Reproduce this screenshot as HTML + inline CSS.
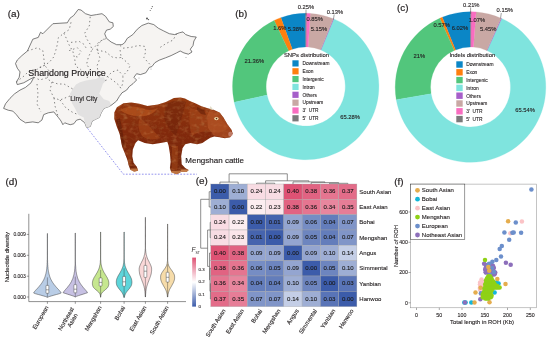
<!DOCTYPE html>
<html lang="en"><head><meta charset="utf-8"><title>Mengshan cattle population genetics figure</title>
<style>html,body{margin:0;padding:0;background:#fff;}body{width:550px;height:340px;overflow:hidden;}svg{display:block;}text{font-family:'Liberation Sans', Arial, sans-serif;}</style>
</head><body>
<svg width="550" height="340" viewBox="0 0 550 340">
<rect width="550" height="340" fill="#ffffff"/>
<g id="panel-a">
<path d="M78.2,9.5 L81.0,10.0 L85.5,13.7 L91.0,15.5 L96.5,14.6 L102.0,13.7 L105.6,16.4 L109.3,21.9 L112.9,22.8 L113.3,26.5 L110.2,29.2 L106.5,30.1 L104.7,33.8 L106.5,38.3 L111.1,42.0 L116.6,44.7 L122.0,44.7 L124.6,42.8 L127.3,38.3 L132.8,34.6 L137.3,29.2 L141.9,25.5 L148.3,23.1 L153.8,24.6 L158.3,28.2 L163.8,31.0 L169.3,33.7 L174.7,34.6 L179.3,32.8 L183.0,31.9 L185.7,34.6 L191.2,36.5 L196.3,37.0 L193.9,41.0 L193.0,45.6 L190.3,49.2 L192.0,52.0 L188.4,54.2 L183.9,52.9 L180.2,51.0 L176.6,52.9 L171.1,55.6 L165.6,57.8 L159.2,60.2 L154.9,62.7 L151.9,66.6 L149.4,67.3 L145.8,72.8 L140.3,74.6 L136.6,73.7 L133.9,77.3 L136.6,80.0 L133.0,83.7 L129.3,86.5 L126.6,90.1 L122.0,92.8 L119.3,96.5 L116.6,101.0 L112.0,104.7 L109.4,106.4 L104.0,108.2 L101.2,112.8 L99.4,117.4 L95.7,119.2 L92.1,121.0 L90.3,126.5 L86.6,127.4 L84.8,122.8 L80.2,119.2 L76.6,120.1 L73.8,123.8 L70.2,124.7 L67.4,123.8 L64.7,122.8 L62.9,124.7 L61.0,121.0 L58.3,117.4 L53.8,111.9 L48.3,112.8 L43.7,114.6 L41.9,120.1 L38.2,122.8 L32.8,121.9 L25.5,122.8 L20.0,119.3 L16.4,114.7 L12.8,111.1 L8.2,110.2 L3.6,108.4 L5.5,103.8 L10.0,98.3 L14.6,93.8 L20.0,90.1 L25.5,87.4 L31.0,82.8 L33.8,77.3 L30.1,79.2 L23.7,82.8 L17.3,84.6 L16.4,81.9 L19.2,77.3 L20.0,71.9 L17.3,68.2 L15.5,63.6 L17.3,60.0 L21.9,55.6 L27.4,51.0 L32.8,39.2 L38.3,37.4 L40.5,32.3 L42.9,33.7 L52.9,23.7 L62.0,23.1 L67.3,22.8 L70.0,18.2 L73.7,15.5 Z" fill="#f6f4f2" stroke="#484848" stroke-width="0.7" stroke-linejoin="round"/>
<path d="M76.0,84.5 L80.0,82.3 L86.0,80.5 L92.0,79.5 L96.0,79.0 L99.2,77.5 L103.8,77.3 L105.6,81.0 L102.9,83.7 L101.0,89.2 L99.2,93.8 L103.8,99.2 L109.3,101.0 L111.0,104.7 L109.4,106.4 L104.0,108.2 L101.2,112.8 L99.4,117.4 L95.7,119.2 L92.1,121.0 L90.3,126.5 L86.6,127.4 L84.8,122.8 L83.7,117.5 L78.2,114.7 L75.5,109.3 L71.9,102.9 L70.0,93.8 L72.8,89.0 Z" fill="#e2e1e1" stroke="none"/>
<path d="M71.0,22.3 L69.2,29.6 L63.8,33.2 L58.3,37.8 L57.4,44.2 L55.5,51.5 L53.7,57.0 L49.2,62.4 L44.6,65.2 L38.0,68.0" fill="none" stroke="#505050" stroke-width="0.7" stroke-dasharray="1.4 2.7"/>
<path d="M90.2,16.8 L89.3,25.9 L84.7,33.2 L86.6,38.7 L90.2,44.2 L92.0,49.7 L88.4,57.0 L86.6,64.3 L90.2,69.7 L88.0,76.0 L86.0,80.5" fill="none" stroke="#505050" stroke-width="0.7" stroke-dasharray="1.4 2.7"/>
<path d="M63.8,33.2 L66.5,38.7 L69.2,45.1 L72.9,51.5 L74.7,58.8 L75.6,66.1 L81.1,69.7" fill="none" stroke="#505050" stroke-width="0.7" stroke-dasharray="1.4 2.7"/>
<path d="M71.0,42.4 L79.3,41.5 L83.8,44.2 L86.6,48.8" fill="none" stroke="#505050" stroke-width="0.7" stroke-dasharray="1.4 2.7"/>
<path d="M69.2,50.6 L77.4,47.8 L81.1,51.5 L77.4,57.0 L73.5,56.0" fill="none" stroke="#505050" stroke-width="0.7" stroke-dasharray="1.4 2.7"/>
<path d="M27.4,51.0 L37.3,47.8 L42.8,50.6 L43.7,57.0 L44.6,65.2 L50.0,72.0 L47.0,78.0" fill="none" stroke="#505050" stroke-width="0.7" stroke-dasharray="1.4 2.7"/>
<path d="M105.7,38.7 L99.3,41.5 L94.8,46.9 L92.0,49.7" fill="none" stroke="#505050" stroke-width="0.7" stroke-dasharray="1.4 2.7"/>
<path d="M103.7,39.1 L98.2,43.7 L97.0,50.0 L100.0,58.0 L97.0,66.0 L99.2,77.3" fill="none" stroke="#505050" stroke-width="0.7" stroke-dasharray="1.4 2.7"/>
<path d="M120.1,45.5 L122.9,48.2 L131.1,47.3 L138.4,45.5 L144.8,46.4 L145.7,51.9 L143.9,57.4 L147.5,61.9 L150.3,64.7" fill="none" stroke="#505050" stroke-width="0.7" stroke-dasharray="1.4 2.7"/>
<path d="M120.1,50.1 L121.1,57.4 L126.5,61.9 L130.2,65.6 L127.4,71.1 L122.9,75.6 L122.9,82.9 L121.0,88.4" fill="none" stroke="#505050" stroke-width="0.7" stroke-dasharray="1.4 2.7"/>
<path d="M160.3,47.3 L165.8,43.7 L173.1,40.0 L176.7,33.6" fill="none" stroke="#505050" stroke-width="0.7" stroke-dasharray="1.4 2.7"/>
<path d="M97.0,50.0 L106.0,52.0 L112.0,57.0 L118.0,58.0 L121.1,57.4" fill="none" stroke="#505050" stroke-width="0.7" stroke-dasharray="1.4 2.7"/>
<path d="M107.4,76.5 L112.8,80.2 L118.3,84.7 L121.0,88.4" fill="none" stroke="#505050" stroke-width="0.7" stroke-dasharray="1.4 2.7"/>
<path d="M105.6,81.0 L107.4,76.5 L112.0,72.0 L118.0,70.0 L122.9,75.6" fill="none" stroke="#505050" stroke-width="0.7" stroke-dasharray="1.4 2.7"/>
<path d="M33.8,77.3 L40.0,80.0 L46.0,78.0 L52.0,82.0 L58.0,84.0 L64.0,84.0 L72.8,89.0" fill="none" stroke="#505050" stroke-width="0.7" stroke-dasharray="1.4 2.7"/>
<path d="M37.0,84.0 L38.0,94.0 L37.0,104.0 L41.0,112.0" fill="none" stroke="#505050" stroke-width="0.7" stroke-dasharray="1.4 2.7"/>
<path d="M52.0,82.0 L50.0,90.0 L54.0,98.0 L60.0,100.0 L70.0,96.0" fill="none" stroke="#505050" stroke-width="0.7" stroke-dasharray="1.4 2.7"/>
<path d="M54.0,98.0 L55.0,106.0 L58.3,117.4" fill="none" stroke="#505050" stroke-width="0.7" stroke-dasharray="1.4 2.7"/>
<path d="M60.0,100.0 L66.0,108.0 L72.0,112.0 L78.2,114.7" fill="none" stroke="#505050" stroke-width="0.7" stroke-dasharray="1.4 2.7"/>
<path d="M16.4,81.9 L24.0,76.0 L30.0,70.0 L36.0,70.0 L44.6,65.2" fill="none" stroke="#505050" stroke-width="0.7" stroke-dasharray="1.4 2.7"/>
<circle cx="152.3" cy="6.6" r="0.6" fill="#555"/>
<circle cx="151.3" cy="8.5" r="0.5" fill="#555"/>
<circle cx="150.2" cy="10.5" r="0.5" fill="#555"/>
<circle cx="147.0" cy="18.6" r="1.0" fill="#555"/>
<circle cx="148.5" cy="19.6" r="0.7" fill="#555"/>
<circle cx="186.0" cy="57.5" r="0.4" fill="#555"/>
<circle cx="151.0" cy="69.0" r="0.4" fill="#555"/>
<circle cx="139.0" cy="78.0" r="0.4" fill="#555"/>
<path d="M87.5,128.3 L123.4,174.2 L197,174.2" fill="none" stroke="#6666e6" stroke-width="0.7" stroke-dasharray="1.7 1.5"/>
<text x="28.3" y="76.2" font-size="8.90" text-anchor="start" fill="#231f20" stroke="#231f20" stroke-width="0.18" >Shandong Province</text>
<text x="70.3" y="100.6" font-size="6.70" text-anchor="start" fill="#231f20" stroke="#231f20" stroke-width="0.13" >Linyi City</text>
<text x="185.3" y="163.0" font-size="8.00" text-anchor="start" fill="#231f20" stroke="#231f20" stroke-width="0.16" >Mengshan cattle</text>
<text x="7.8" y="17.1" font-size="9.90" text-anchor="start" fill="#231f20" stroke="#231f20" stroke-width="0.20" >(a)</text>
<defs><linearGradient id="cowg" x1="0" y1="0" x2="0" y2="1"><stop offset="0" stop-color="#94390f"/><stop offset="0.45" stop-color="#82290c"/><stop offset="1" stop-color="#74260b"/></linearGradient></defs>
<defs><clipPath id="cowclip"><path d="M116.9,107.2 L123.5,103.2 L131.5,102.5 L139.4,103.8 L147.4,105.9 L158.0,104.6 L165.9,101.9 L173.9,97.9 L180.5,97.4 L185.0,98.5 L189.1,100.8 L195.8,103.4 L201.5,106.2 L208.5,108.6 L213.0,109.4 L219.6,112.5 L223.6,117.8 L227.5,124.4 L231.5,129.7 L232.8,133.7 L230.2,137.2 L224.9,138.2 L219.6,137.2 L214.3,136.4 L210.3,137.7 L206.4,140.3 L202.4,143.0 L197.1,144.3 L190.5,143.0 L185.2,144.3 L182.5,148.3 L181.2,156.2 L181.7,164.2 L185.2,168.1 L188.6,170.0 L186.5,172.1 L179.9,171.6 L178.6,169.5 L180.5,172.6 L176.5,174.2 L171.2,172.1 L169.9,168.1 L170.7,161.5 L169.9,153.6 L168.6,145.6 L167.3,141.7 L160.6,143.0 L152.7,144.3 L144.7,143.0 L138.1,140.3 L135.5,143.0 L132.8,149.6 L132.3,156.2 L133.6,162.8 L136.8,166.8 L138.1,170.8 L134.1,171.6 L130.2,169.5 L128.8,165.5 L127.5,160.2 L124.9,153.6 L122.2,147.0 L120.9,140.3 L119.6,133.7 L116.9,127.1 L114.3,119.1 L114.3,112.5 Z"/></clipPath><filter id="fur" x="0" y="0" width="100%" height="100%"><feTurbulence type="fractalNoise" baseFrequency="0.22 0.3" numOctaves="3" seed="4" result="n"/><feColorMatrix in="n" type="matrix" values="0 0 0 0 0.30  0 0 0 0 0.08  0 0 0 0 0.02  0 0 0 -2.6 1.35"/></filter><filter id="fur2" x="0" y="0" width="100%" height="100%"><feTurbulence type="fractalNoise" baseFrequency="0.18 0.25" numOctaves="2" seed="11" result="n"/><feColorMatrix in="n" type="matrix" values="0 0 0 0 0.80  0 0 0 0 0.40  0 0 0 0 0.16  0 0 0 2.4 -1.25"/></filter></defs>
<path d="M116.9,107.2 L123.5,103.2 L131.5,102.5 L139.4,103.8 L147.4,105.9 L158.0,104.6 L165.9,101.9 L173.9,97.9 L180.5,97.4 L185.0,98.5 L189.1,100.8 L195.8,103.4 L201.5,106.2 L208.5,108.6 L213.0,109.4 L219.6,112.5 L223.6,117.8 L227.5,124.4 L231.5,129.7 L232.8,133.7 L230.2,137.2 L224.9,138.2 L219.6,137.2 L214.3,136.4 L210.3,137.7 L206.4,140.3 L202.4,143.0 L197.1,144.3 L190.5,143.0 L185.2,144.3 L182.5,148.3 L181.2,156.2 L181.7,164.2 L185.2,168.1 L188.6,170.0 L186.5,172.1 L179.9,171.6 L178.6,169.5 L180.5,172.6 L176.5,174.2 L171.2,172.1 L169.9,168.1 L170.7,161.5 L169.9,153.6 L168.6,145.6 L167.3,141.7 L160.6,143.0 L152.7,144.3 L144.7,143.0 L138.1,140.3 L135.5,143.0 L132.8,149.6 L132.3,156.2 L133.6,162.8 L136.8,166.8 L138.1,170.8 L134.1,171.6 L130.2,169.5 L128.8,165.5 L127.5,160.2 L124.9,153.6 L122.2,147.0 L120.9,140.3 L119.6,133.7 L116.9,127.1 L114.3,119.1 L114.3,112.5 Z" fill="url(#cowg)" stroke="none"/>
<path d="M120,110 Q130,104 142,108 Q150,112 158,108 Q150,118 138,116 Q128,116 120,110Z" fill="#b4541f" opacity="0.75"/>
<path d="M140,118 Q150,126 160,138 Q150,142 142,136 Q136,126 140,118Z" fill="#a94a1a" opacity="0.6"/>
<path d="M166,104 Q176,98 186,102 Q182,118 176,136 Q168,130 164,118Z" fill="#6e230b" opacity="0.55"/>
<path d="M190,108 Q202,112 212,112 Q222,118 228,128 Q222,134 212,132 Q200,130 192,136 Q188,124 190,108Z" fill="#a6481a" opacity="0.6"/>
<path d="M116,120 Q120,132 122,146 Q126,150 124,140 Q122,128 120,118Z" fill="#5e1c08" opacity="0.6"/>
<path d="M172,146 L178,146 L177.5,170 L172,170Z" fill="#a04418" opacity="0.6"/>
<path d="M126,150 L131,150 L132,166 L129,166Z" fill="#a04418" opacity="0.5"/>
<g clip-path="url(#cowclip)"><rect x="112" y="95" width="124" height="82" filter="url(#fur)" opacity="0.6"/><rect x="112" y="95" width="124" height="82" filter="url(#fur2)" opacity="0.3"/></g>
<path d="M130.4,168.6 L137.6,168.6 L138.1,170.8 L134.1,171.7 L130.2,169.8Z" fill="#c9804a" opacity="0.85"/>
<path d="M171,171 L180,170.6 L180.5,172.6 L176.5,174.2 L171.2,172.4Z" fill="#c9804a" opacity="0.85"/>
<path d="M180.5,169.6 L187.8,169.4 L188.6,170.2 L186.5,172.1 L180.8,171.8Z" fill="#d08850" opacity="0.85"/>
<path d="M210,109.5 L220,113 L227.5,124.4 L232,131 L230,137 L222,137.6 L214,135.5 L208,128 L207,116Z" fill="#b9592a" opacity="0.55"/>
<ellipse cx="216.4" cy="118.6" rx="2.2" ry="1.6" fill="#f1dcae"/>
<circle cx="216.5" cy="118.6" r="0.8" fill="#5a2a10"/>
<path d="M209.6,108.9 L210.5,105.9 L213.6,110.2Z" fill="#e2dcc8"/>
<path d="M197,107 L204,110 L206,115 L201,114 L197,110Z" fill="#5e1c08" opacity="0.55"/>
<ellipse cx="230.4" cy="134" rx="2.2" ry="2.6" fill="#c98a78" opacity="0.8"/>
</g>
<g id="panel-b">
<path d="M305.70,13.30 A73.20,73.20 0 0 0 280.90,17.63 L292.29,49.24 A39.60,39.60 0 0 1 305.70,46.90 Z" fill="#0b86c6" stroke="#0b86c6" stroke-width="0.25"/>
<path d="M280.90,17.63 A73.20,73.20 0 0 0 274.12,20.46 L288.61,50.78 A39.60,39.60 0 0 1 292.29,49.24 Z" fill="#ff7f0e" stroke="#ff7f0e" stroke-width="0.25"/>
<path d="M274.12,20.46 A73.20,73.20 0 0 0 234.22,102.29 L267.03,95.04 A39.60,39.60 0 0 1 288.61,50.78 Z" fill="#52c67c" stroke="#52c67c" stroke-width="0.25"/>
<path d="M234.22,102.29 A73.20,73.20 0 1 0 333.75,18.89 L320.88,49.92 A39.60,39.60 0 1 1 267.03,95.04 Z" fill="#7fe4de" stroke="#7fe4de" stroke-width="0.25"/>
<path d="M333.75,18.89 A73.20,73.20 0 0 0 333.20,18.66 L320.58,49.80 A39.60,39.60 0 0 1 320.88,49.92 Z" fill="#a65fc9" stroke="#a65fc9" stroke-width="0.25"/>
<path d="M333.20,18.66 A73.20,73.20 0 0 0 310.20,13.44 L308.14,46.98 A39.60,39.60 0 0 1 320.58,49.80 Z" fill="#c9a8a4" stroke="#c9a8a4" stroke-width="0.25"/>
<path d="M310.20,13.44 A73.20,73.20 0 0 0 306.30,13.30 L306.02,46.90 A39.60,39.60 0 0 1 308.14,46.98 Z" fill="#f96dc0" stroke="#f96dc0" stroke-width="0.25"/>
<path d="M306.30,13.30 A73.20,73.20 0 0 0 305.70,13.30 L305.70,46.90 A39.60,39.60 0 0 1 306.02,46.90 Z" fill="#7a7a7a" stroke="#7a7a7a" stroke-width="0.25"/>
<text x="296.0" y="31.0" font-size="5.80" text-anchor="middle" fill="#231f20" stroke="#231f20" stroke-width="0.12" >5.38%</text>
<text x="279.8" y="29.6" font-size="5.80" text-anchor="middle" fill="#231f20" stroke="#231f20" stroke-width="0.12" >1.6%</text>
<text x="314.6" y="21.0" font-size="5.80" text-anchor="middle" fill="#231f20" stroke="#231f20" stroke-width="0.12" >0.85%</text>
<text x="319.0" y="31.4" font-size="5.80" text-anchor="middle" fill="#231f20" stroke="#231f20" stroke-width="0.12" >5.15%</text>
<text x="306.0" y="8.7" font-size="5.80" text-anchor="middle" fill="#231f20" stroke="#231f20" stroke-width="0.12" >0.25%</text>
<text x="335.0" y="13.6" font-size="5.80" text-anchor="middle" fill="#231f20" stroke="#231f20" stroke-width="0.12" >0.13%</text>
<text x="254.4" y="63.0" font-size="5.80" text-anchor="middle" fill="#231f20" stroke="#231f20" stroke-width="0.12" >21.36%</text>
<text x="350.0" y="119.2" font-size="5.80" text-anchor="middle" fill="#231f20" stroke="#231f20" stroke-width="0.12" >65.28%</text>
<path d="M306,9.5 L306,15.5" stroke="#444" stroke-width="0.5"/>
<path d="M334.2,14.5 L333.4,19.5" stroke="#444" stroke-width="0.5"/>
<text x="306.5" y="57.0" font-size="5.90" text-anchor="middle" fill="#231f20" stroke="#231f20" stroke-width="0.12" >SNPs distribution</text>
<rect x="292.4" y="60.3" width="6.2" height="6.2" fill="#0b86c6"/>
<text x="302.5" y="65.1" font-size="4.80" text-anchor="start" fill="#231f20" stroke="#231f20" stroke-width="0.10" >Downstream</text>
<rect x="292.4" y="68.2" width="6.2" height="6.2" fill="#ff7f0e"/>
<text x="302.5" y="73.0" font-size="4.80" text-anchor="start" fill="#231f20" stroke="#231f20" stroke-width="0.10" >Exon</text>
<rect x="292.4" y="76.0" width="6.2" height="6.2" fill="#52c67c"/>
<text x="302.5" y="80.8" font-size="4.80" text-anchor="start" fill="#231f20" stroke="#231f20" stroke-width="0.10" >Intergenic</text>
<rect x="292.4" y="83.8" width="6.2" height="6.2" fill="#7fe4de"/>
<text x="302.5" y="88.7" font-size="4.80" text-anchor="start" fill="#231f20" stroke="#231f20" stroke-width="0.10" >Intron</text>
<rect x="292.4" y="91.7" width="6.2" height="6.2" fill="#a65fc9"/>
<text x="302.5" y="96.5" font-size="4.80" text-anchor="start" fill="#231f20" stroke="#231f20" stroke-width="0.10" >Others</text>
<rect x="292.4" y="99.6" width="6.2" height="6.2" fill="#c9a8a4"/>
<text x="302.5" y="104.4" font-size="4.80" text-anchor="start" fill="#231f20" stroke="#231f20" stroke-width="0.10" >Upstream</text>
<rect x="292.4" y="107.4" width="6.2" height="6.2" fill="#f96dc0"/>
<text x="302.5" y="112.2" font-size="4.80" text-anchor="start" fill="#231f20" stroke="#231f20" stroke-width="0.10" >3&#8217; <tspan dx="1.3">UTR</tspan></text>
<rect x="292.4" y="115.2" width="6.2" height="6.2" fill="#7a7a7a"/>
<text x="302.5" y="120.1" font-size="4.80" text-anchor="start" fill="#231f20" stroke="#231f20" stroke-width="0.10" >5&#8217; <tspan dx="1.3">UTR</tspan></text>
<text x="235.3" y="16.6" font-size="9.90" text-anchor="start" fill="#231f20" stroke="#231f20" stroke-width="0.20" >(b)</text>
</g>
<g id="panel-c">
<path d="M470.50,11.70 A75.30,75.30 0 0 0 442.26,17.20 L455.50,49.92 A40.00,40.00 0 0 1 470.50,47.00 Z" fill="#0b86c6" stroke="#0b86c6" stroke-width="0.25"/>
<path d="M442.26,17.20 A75.30,75.30 0 0 0 439.77,18.25 L454.18,50.48 A40.00,40.00 0 0 1 455.50,49.92 Z" fill="#ff7f0e" stroke="#ff7f0e" stroke-width="0.25"/>
<path d="M439.77,18.25 A75.30,75.30 0 0 0 396.27,99.65 L431.07,93.72 A40.00,40.00 0 0 1 454.18,50.48 Z" fill="#52c67c" stroke="#52c67c" stroke-width="0.25"/>
<path d="M396.27,99.65 A75.30,75.30 0 1 0 501.61,18.43 L487.03,50.57 A40.00,40.00 0 1 1 431.07,93.72 Z" fill="#7fe4de" stroke="#7fe4de" stroke-width="0.25"/>
<path d="M501.61,18.43 A75.30,75.30 0 0 0 500.97,18.14 L486.68,50.42 A40.00,40.00 0 0 1 487.03,50.57 Z" fill="#a65fc9" stroke="#a65fc9" stroke-width="0.25"/>
<path d="M500.97,18.14 A75.30,75.30 0 0 0 476.08,11.91 L473.46,47.11 A40.00,40.00 0 0 1 486.68,50.42 Z" fill="#c9a8a4" stroke="#c9a8a4" stroke-width="0.25"/>
<path d="M476.08,11.91 A75.30,75.30 0 0 0 471.02,11.70 L470.78,47.00 A40.00,40.00 0 0 1 473.46,47.11 Z" fill="#f96dc0" stroke="#f96dc0" stroke-width="0.25"/>
<path d="M471.02,11.70 A75.30,75.30 0 0 0 470.50,11.70 L470.50,47.00 A40.00,40.00 0 0 1 470.78,47.00 Z" fill="#7a7a7a" stroke="#7a7a7a" stroke-width="0.25"/>
<text x="460.0" y="29.5" font-size="5.80" text-anchor="middle" fill="#231f20" stroke="#231f20" stroke-width="0.12" >6.02%</text>
<text x="441.7" y="27.4" font-size="5.80" text-anchor="middle" fill="#231f20" stroke="#231f20" stroke-width="0.12" >0.57%</text>
<text x="477.0" y="21.8" font-size="5.80" text-anchor="middle" fill="#231f20" stroke="#231f20" stroke-width="0.12" >1.07%</text>
<text x="488.2" y="31.3" font-size="5.80" text-anchor="middle" fill="#231f20" stroke="#231f20" stroke-width="0.12" >5.45%</text>
<text x="471.3" y="6.6" font-size="5.80" text-anchor="middle" fill="#231f20" stroke="#231f20" stroke-width="0.12" >0.21%</text>
<text x="504.8" y="11.7" font-size="5.80" text-anchor="middle" fill="#231f20" stroke="#231f20" stroke-width="0.12" >0.15%</text>
<text x="419.3" y="57.5" font-size="5.80" text-anchor="middle" fill="#231f20" stroke="#231f20" stroke-width="0.12" >21%</text>
<text x="525.0" y="112.3" font-size="5.80" text-anchor="middle" fill="#231f20" stroke="#231f20" stroke-width="0.12" >65.54%</text>
<path d="M470.6,7.5 L470.6,14" stroke="#444" stroke-width="0.5"/>
<path d="M501.3,13 L500.5,18.5" stroke="#444" stroke-width="0.5"/>
<text x="472.3" y="56.7" font-size="5.90" text-anchor="middle" fill="#231f20" stroke="#231f20" stroke-width="0.12" >Indels distribution</text>
<rect x="456.3" y="61.3" width="6.4" height="6.4" fill="#0b86c6"/>
<text x="466.2" y="66.3" font-size="4.90" text-anchor="start" fill="#231f20" stroke="#231f20" stroke-width="0.10" >Downstream</text>
<rect x="456.3" y="69.1" width="6.4" height="6.4" fill="#ff7f0e"/>
<text x="466.2" y="74.1" font-size="4.90" text-anchor="start" fill="#231f20" stroke="#231f20" stroke-width="0.10" >Exon</text>
<rect x="456.3" y="76.9" width="6.4" height="6.4" fill="#52c67c"/>
<text x="466.2" y="81.9" font-size="4.90" text-anchor="start" fill="#231f20" stroke="#231f20" stroke-width="0.10" >Intergenic</text>
<rect x="456.3" y="84.7" width="6.4" height="6.4" fill="#7fe4de"/>
<text x="466.2" y="89.7" font-size="4.90" text-anchor="start" fill="#231f20" stroke="#231f20" stroke-width="0.10" >Intron</text>
<rect x="456.3" y="92.5" width="6.4" height="6.4" fill="#a65fc9"/>
<text x="466.2" y="97.5" font-size="4.90" text-anchor="start" fill="#231f20" stroke="#231f20" stroke-width="0.10" >Others</text>
<rect x="456.3" y="100.3" width="6.4" height="6.4" fill="#c9a8a4"/>
<text x="466.2" y="105.3" font-size="4.90" text-anchor="start" fill="#231f20" stroke="#231f20" stroke-width="0.10" >Upstream</text>
<rect x="456.3" y="108.1" width="6.4" height="6.4" fill="#f96dc0"/>
<text x="466.2" y="113.1" font-size="4.90" text-anchor="start" fill="#231f20" stroke="#231f20" stroke-width="0.10" >3&#8217; <tspan dx="1.3">UTR</tspan></text>
<rect x="456.3" y="115.9" width="6.4" height="6.4" fill="#7a7a7a"/>
<text x="466.2" y="120.9" font-size="4.90" text-anchor="start" fill="#231f20" stroke="#231f20" stroke-width="0.10" >5&#8217; <tspan dx="1.3">UTR</tspan></text>
<text x="397.0" y="10.5" font-size="9.90" text-anchor="start" fill="#231f20" stroke="#231f20" stroke-width="0.20" >(c)</text>
</g>
<g id="panel-d">
<path d="M47.3,233.5 L47.3,234.2 L47.3,234.9 L47.3,235.6 L47.3,236.3 L47.3,237.0 L47.3,237.8 L47.3,238.5 L47.3,239.2 L47.3,239.9 L47.3,240.6 L47.3,241.3 L47.3,242.0 L47.3,242.7 L47.3,243.4 L47.3,244.1 L47.3,244.8 L47.3,245.6 L47.3,246.3 L47.3,247.0 L47.3,247.7 L47.3,248.4 L47.3,249.1 L47.3,249.8 L47.3,250.5 L47.3,251.2 L47.3,251.9 L47.3,252.6 L47.3,253.3 L47.3,254.1 L47.3,254.8 L47.3,255.5 L47.3,256.2 L47.3,256.9 L47.3,257.6 L47.3,258.3 L47.3,259.0 L47.3,259.7 L47.2,260.4 L47.2,261.1 L47.2,261.9 L47.2,262.6 L47.1,263.3 L47.1,264.0 L47.1,264.7 L47.0,265.4 L47.0,266.1 L46.9,266.8 L46.8,267.5 L46.8,268.2 L46.7,268.9 L46.6,269.7 L46.5,270.4 L46.4,271.1 L46.3,271.8 L46.1,272.5 L46.0,273.2 L45.8,273.9 L45.6,274.6 L45.4,275.3 L45.2,276.0 L45.0,276.7 L44.7,277.5 L44.4,278.2 L44.1,278.9 L43.8,279.6 L43.4,280.3 L43.0,281.0 L42.6,281.7 L42.2,282.4 L41.7,283.1 L41.2,283.8 L40.7,284.5 L40.1,285.2 L39.5,286.0 L38.9,286.7 L38.3,287.4 L37.7,288.1 L37.0,288.8 L36.3,289.5 L35.7,290.2 L35.1,290.9 L34.5,291.6 L34.0,292.3 L33.6,293.0 L35.7,293.8 L38.3,294.5 L40.9,295.2 L43.3,295.9 L45.7,296.6 L47.3,297.3 L47.5,297.3 L49.1,296.6 L51.5,295.9 L53.9,295.2 L56.5,294.5 L59.1,293.8 L61.2,293.0 L60.8,292.3 L60.3,291.6 L59.7,290.9 L59.1,290.2 L58.5,289.5 L57.8,288.8 L57.1,288.1 L56.5,287.4 L55.9,286.7 L55.3,286.0 L54.7,285.2 L54.1,284.5 L53.6,283.8 L53.1,283.1 L52.6,282.4 L52.2,281.7 L51.8,281.0 L51.4,280.3 L51.0,279.6 L50.7,278.9 L50.4,278.2 L50.1,277.5 L49.8,276.7 L49.6,276.0 L49.4,275.3 L49.2,274.6 L49.0,273.9 L48.8,273.2 L48.7,272.5 L48.5,271.8 L48.4,271.1 L48.3,270.4 L48.2,269.7 L48.1,268.9 L48.0,268.2 L48.0,267.5 L47.9,266.8 L47.8,266.1 L47.8,265.4 L47.7,264.7 L47.7,264.0 L47.7,263.3 L47.6,262.6 L47.6,261.9 L47.6,261.1 L47.6,260.4 L47.5,259.7 L47.5,259.0 L47.5,258.3 L47.5,257.6 L47.5,256.9 L47.5,256.2 L47.5,255.5 L47.5,254.8 L47.5,254.1 L47.5,253.3 L47.5,252.6 L47.5,251.9 L47.5,251.2 L47.5,250.5 L47.5,249.8 L47.5,249.1 L47.5,248.4 L47.5,247.7 L47.5,247.0 L47.5,246.3 L47.5,245.6 L47.5,244.8 L47.5,244.1 L47.5,243.4 L47.5,242.7 L47.5,242.0 L47.5,241.3 L47.5,240.6 L47.5,239.9 L47.5,239.2 L47.5,238.5 L47.5,237.8 L47.5,237.0 L47.5,236.3 L47.5,235.6 L47.5,234.9 L47.5,234.2 L47.5,233.5 Z" fill="#b9cde6" stroke="#3c3c3c" stroke-width="0.5" stroke-linejoin="round"/>
<path d="M47.4,277.4 L47.4,297.3" stroke="#333" stroke-width="0.4"/>
<rect x="46.0" y="285.4" width="2.8" height="7.9" rx="0.4" fill="#fff" stroke="#444" stroke-width="0.45"/>
<path d="M46.0,289.8 L48.8,289.8" stroke="#444" stroke-width="0.5"/>
<path d="M75.2,233.0 L75.2,233.7 L75.2,234.4 L75.2,235.1 L75.2,235.8 L75.2,236.6 L75.2,237.3 L75.2,238.0 L75.2,238.7 L75.2,239.4 L75.2,240.1 L75.2,240.8 L75.2,241.5 L75.2,242.2 L75.2,243.0 L75.2,243.7 L75.2,244.4 L75.2,245.1 L75.2,245.8 L75.2,246.5 L75.2,247.2 L75.2,247.9 L75.2,248.6 L75.2,249.4 L75.2,250.1 L75.2,250.8 L75.2,251.5 L75.2,252.2 L75.2,252.9 L75.2,253.6 L75.2,254.3 L75.2,255.0 L75.2,255.8 L75.2,256.5 L75.2,257.2 L75.2,257.9 L75.2,258.6 L75.2,259.3 L75.2,260.0 L75.2,260.7 L75.2,261.4 L75.1,262.2 L75.1,262.9 L75.1,263.6 L75.1,264.3 L75.0,265.0 L75.0,265.7 L74.9,266.4 L74.9,267.1 L74.8,267.8 L74.8,268.6 L74.7,269.3 L74.6,270.0 L74.6,270.7 L74.5,271.4 L74.4,272.1 L74.2,272.8 L74.1,273.5 L74.0,274.2 L73.8,275.0 L73.6,275.7 L73.4,276.4 L73.2,277.1 L73.0,277.8 L72.8,278.5 L72.5,279.2 L72.2,279.9 L71.8,280.6 L71.5,281.4 L71.1,282.1 L70.7,282.8 L70.3,283.5 L69.8,284.2 L69.3,284.9 L68.8,285.6 L68.2,286.3 L67.7,287.0 L67.1,287.8 L66.4,288.5 L65.8,289.2 L65.2,289.9 L64.6,290.6 L64.0,291.3 L63.5,292.0 L63.1,292.7 L65.2,293.4 L67.6,294.2 L69.8,294.9 L72.0,295.6 L74.0,296.3 L75.2,297.0 L75.4,297.0 L76.6,296.3 L78.6,295.6 L80.8,294.9 L83.0,294.2 L85.4,293.4 L87.5,292.7 L87.1,292.0 L86.6,291.3 L86.0,290.6 L85.4,289.9 L84.8,289.2 L84.2,288.5 L83.5,287.8 L82.9,287.0 L82.4,286.3 L81.8,285.6 L81.3,284.9 L80.8,284.2 L80.3,283.5 L79.9,282.8 L79.5,282.1 L79.1,281.4 L78.8,280.6 L78.4,279.9 L78.1,279.2 L77.8,278.5 L77.6,277.8 L77.4,277.1 L77.2,276.4 L77.0,275.7 L76.8,275.0 L76.6,274.2 L76.5,273.5 L76.4,272.8 L76.2,272.1 L76.1,271.4 L76.0,270.7 L76.0,270.0 L75.9,269.3 L75.8,268.6 L75.8,267.8 L75.7,267.1 L75.7,266.4 L75.6,265.7 L75.6,265.0 L75.5,264.3 L75.5,263.6 L75.5,262.9 L75.5,262.2 L75.4,261.4 L75.4,260.7 L75.4,260.0 L75.4,259.3 L75.4,258.6 L75.4,257.9 L75.4,257.2 L75.4,256.5 L75.4,255.8 L75.4,255.0 L75.4,254.3 L75.4,253.6 L75.4,252.9 L75.4,252.2 L75.4,251.5 L75.4,250.8 L75.4,250.1 L75.4,249.4 L75.4,248.6 L75.4,247.9 L75.4,247.2 L75.4,246.5 L75.4,245.8 L75.4,245.1 L75.4,244.4 L75.4,243.7 L75.4,243.0 L75.4,242.2 L75.4,241.5 L75.4,240.8 L75.4,240.1 L75.4,239.4 L75.4,238.7 L75.4,238.0 L75.4,237.3 L75.4,236.6 L75.4,235.8 L75.4,235.1 L75.4,234.4 L75.4,233.7 L75.4,233.0 Z" fill="#c7c1e3" stroke="#3c3c3c" stroke-width="0.5" stroke-linejoin="round"/>
<path d="M75.3,276.6 L75.3,297.0" stroke="#333" stroke-width="0.4"/>
<rect x="73.9" y="284.6" width="2.8" height="8.2" rx="0.4" fill="#fff" stroke="#444" stroke-width="0.45"/>
<path d="M73.9,289.2 L76.7,289.2" stroke="#444" stroke-width="0.5"/>
<path d="M100.5,232.0 L100.5,232.7 L100.5,233.4 L100.5,234.2 L100.5,234.9 L100.5,235.6 L100.5,236.3 L100.5,237.1 L100.5,237.8 L100.5,238.5 L100.5,239.2 L100.5,240.0 L100.5,240.7 L100.5,241.4 L100.5,242.1 L100.5,242.9 L100.5,243.6 L100.5,244.3 L100.5,245.0 L100.5,245.8 L100.5,246.5 L100.5,247.2 L100.5,247.9 L100.5,248.7 L100.5,249.4 L100.5,250.1 L100.5,250.8 L100.5,251.6 L100.5,252.3 L100.5,253.0 L100.5,253.7 L100.5,254.5 L100.5,255.2 L100.5,255.9 L100.5,256.6 L100.5,257.4 L100.5,258.1 L100.5,258.8 L100.5,259.5 L100.4,260.3 L100.4,261.0 L100.3,261.7 L100.3,262.4 L100.2,263.2 L100.1,263.9 L100.0,264.6 L99.8,265.3 L99.7,266.0 L99.5,266.8 L99.3,267.5 L99.1,268.2 L98.8,268.9 L98.5,269.7 L98.2,270.4 L97.8,271.1 L97.5,271.8 L97.1,272.6 L96.6,273.3 L96.2,274.0 L95.8,274.7 L95.3,275.5 L94.9,276.2 L94.5,276.9 L94.0,277.6 L93.7,278.4 L93.3,279.1 L93.0,279.8 L92.8,280.5 L92.6,281.3 L92.5,282.0 L92.4,282.7 L92.4,283.4 L92.4,284.2 L92.5,284.9 L92.7,285.6 L92.9,286.3 L93.3,287.1 L93.8,287.8 L94.5,288.5 L95.3,289.2 L96.1,290.0 L97.0,290.7 L97.8,291.4 L98.6,292.1 L99.2,292.9 L99.7,293.6 L100.0,294.3 L100.3,295.0 L100.4,295.8 L100.5,296.5 L100.5,297.2 L100.7,297.2 L100.7,296.5 L100.8,295.8 L100.9,295.0 L101.2,294.3 L101.5,293.6 L102.0,292.9 L102.6,292.1 L103.4,291.4 L104.2,290.7 L105.1,290.0 L105.9,289.2 L106.7,288.5 L107.4,287.8 L107.9,287.1 L108.3,286.3 L108.5,285.6 L108.7,284.9 L108.8,284.2 L108.8,283.4 L108.8,282.7 L108.7,282.0 L108.6,281.3 L108.4,280.5 L108.2,279.8 L107.9,279.1 L107.5,278.4 L107.2,277.6 L106.7,276.9 L106.3,276.2 L105.9,275.5 L105.4,274.7 L105.0,274.0 L104.6,273.3 L104.1,272.6 L103.7,271.8 L103.4,271.1 L103.0,270.4 L102.7,269.7 L102.4,268.9 L102.1,268.2 L101.9,267.5 L101.7,266.8 L101.5,266.0 L101.4,265.3 L101.2,264.6 L101.1,263.9 L101.0,263.2 L100.9,262.4 L100.9,261.7 L100.8,261.0 L100.8,260.3 L100.7,259.5 L100.7,258.8 L100.7,258.1 L100.7,257.4 L100.7,256.6 L100.7,255.9 L100.7,255.2 L100.7,254.5 L100.7,253.7 L100.7,253.0 L100.7,252.3 L100.7,251.6 L100.7,250.8 L100.7,250.1 L100.7,249.4 L100.7,248.7 L100.7,247.9 L100.7,247.2 L100.7,246.5 L100.7,245.8 L100.7,245.0 L100.7,244.3 L100.7,243.6 L100.7,242.9 L100.7,242.1 L100.7,241.4 L100.7,240.7 L100.7,240.0 L100.7,239.2 L100.7,238.5 L100.7,237.8 L100.7,237.1 L100.7,236.3 L100.7,235.6 L100.7,234.9 L100.7,234.2 L100.7,233.4 L100.7,232.7 L100.7,232.0 Z" fill="#c6e78f" stroke="#3c3c3c" stroke-width="0.5" stroke-linejoin="round"/>
<path d="M100.6,269.9 L100.6,297.2" stroke="#333" stroke-width="0.4"/>
<rect x="99.2" y="277.9" width="2.8" height="8.1" rx="0.4" fill="#fff" stroke="#444" stroke-width="0.45"/>
<path d="M99.2,282.4 L102.0,282.4" stroke="#444" stroke-width="0.5"/>
<path d="M124.0,232.0 L124.0,232.7 L124.0,233.5 L124.0,234.2 L124.0,234.9 L124.0,235.6 L124.0,236.4 L124.0,237.1 L124.0,237.8 L124.0,238.5 L124.0,239.3 L124.0,240.0 L124.0,240.7 L124.0,241.4 L124.0,242.2 L124.0,242.9 L124.0,243.6 L124.0,244.4 L124.0,245.1 L124.0,245.8 L124.0,246.5 L124.0,247.3 L124.0,248.0 L124.0,248.7 L124.0,249.4 L124.0,250.2 L124.0,250.9 L124.0,251.6 L124.0,252.3 L124.0,253.1 L124.0,253.8 L124.0,254.5 L124.0,255.3 L124.0,256.0 L124.0,256.7 L124.0,257.4 L124.0,258.2 L124.0,258.9 L123.9,259.6 L123.9,260.3 L123.8,261.1 L123.8,261.8 L123.7,262.5 L123.6,263.2 L123.5,264.0 L123.3,264.7 L123.2,265.4 L123.0,266.2 L122.7,266.9 L122.5,267.6 L122.2,268.3 L121.9,269.1 L121.6,269.8 L121.2,270.5 L120.8,271.2 L120.4,272.0 L120.0,272.7 L119.6,273.4 L119.2,274.1 L118.7,274.9 L118.3,275.6 L117.9,276.3 L117.6,277.1 L117.2,277.8 L116.9,278.5 L116.7,279.2 L116.5,280.0 L116.4,280.7 L116.3,281.4 L116.3,282.1 L116.3,282.9 L116.4,283.6 L116.5,284.3 L116.7,285.0 L117.0,285.8 L117.4,286.5 L117.9,287.2 L118.4,288.0 L118.9,288.7 L119.5,289.4 L120.1,290.1 L120.7,290.9 L121.3,291.6 L121.8,292.3 L122.3,293.0 L122.7,293.8 L123.0,294.5 L123.3,295.2 L123.5,295.9 L123.7,296.7 L123.8,297.4 L124.4,297.4 L124.5,296.7 L124.7,295.9 L124.9,295.2 L125.2,294.5 L125.5,293.8 L125.9,293.0 L126.4,292.3 L126.9,291.6 L127.5,290.9 L128.1,290.1 L128.7,289.4 L129.3,288.7 L129.8,288.0 L130.3,287.2 L130.8,286.5 L131.2,285.8 L131.5,285.0 L131.7,284.3 L131.8,283.6 L131.9,282.9 L131.9,282.1 L131.9,281.4 L131.8,280.7 L131.7,280.0 L131.5,279.2 L131.3,278.5 L131.0,277.8 L130.6,277.1 L130.3,276.3 L129.9,275.6 L129.5,274.9 L129.0,274.1 L128.6,273.4 L128.2,272.7 L127.8,272.0 L127.4,271.2 L127.0,270.5 L126.6,269.8 L126.3,269.1 L126.0,268.3 L125.7,267.6 L125.5,266.9 L125.2,266.2 L125.0,265.4 L124.9,264.7 L124.7,264.0 L124.6,263.2 L124.5,262.5 L124.4,261.8 L124.4,261.1 L124.3,260.3 L124.3,259.6 L124.2,258.9 L124.2,258.2 L124.2,257.4 L124.2,256.7 L124.2,256.0 L124.2,255.3 L124.2,254.5 L124.2,253.8 L124.2,253.1 L124.2,252.3 L124.2,251.6 L124.2,250.9 L124.2,250.2 L124.2,249.4 L124.2,248.7 L124.2,248.0 L124.2,247.3 L124.2,246.5 L124.2,245.8 L124.2,245.1 L124.2,244.4 L124.2,243.6 L124.2,242.9 L124.2,242.2 L124.2,241.4 L124.2,240.7 L124.2,240.0 L124.2,239.3 L124.2,238.5 L124.2,237.8 L124.2,237.1 L124.2,236.4 L124.2,235.6 L124.2,234.9 L124.2,234.2 L124.2,233.5 L124.2,232.7 L124.2,232.0 Z" fill="#5dd5da" stroke="#3c3c3c" stroke-width="0.5" stroke-linejoin="round"/>
<path d="M124.1,268.4 L124.1,297.4" stroke="#333" stroke-width="0.4"/>
<rect x="122.7" y="276.4" width="2.8" height="9.8" rx="0.4" fill="#fff" stroke="#444" stroke-width="0.45"/>
<path d="M122.7,281.8 L125.5,281.8" stroke="#444" stroke-width="0.5"/>
<path d="M145.3,217.4 L145.3,218.3 L145.3,219.2 L145.3,220.1 L145.3,220.9 L145.3,221.8 L145.3,222.7 L145.3,223.6 L145.3,224.5 L145.3,225.4 L145.3,226.2 L145.3,227.1 L145.3,228.0 L145.3,228.9 L145.3,229.8 L145.3,230.7 L145.3,231.6 L145.3,232.4 L145.3,233.3 L145.3,234.2 L145.3,235.1 L145.3,236.0 L145.3,236.9 L145.3,237.7 L145.3,238.6 L145.3,239.5 L145.3,240.4 L145.3,241.3 L145.3,242.2 L145.3,243.0 L145.3,243.9 L145.3,244.8 L145.3,245.7 L145.3,246.6 L145.3,247.5 L145.3,248.4 L145.2,249.2 L145.2,250.1 L145.1,251.0 L145.0,251.9 L144.9,252.8 L144.7,253.7 L144.6,254.5 L144.3,255.4 L144.1,256.3 L143.8,257.2 L143.5,258.1 L143.1,259.0 L142.7,259.9 L142.3,260.7 L141.8,261.6 L141.4,262.5 L140.9,263.4 L140.5,264.3 L140.1,265.2 L139.8,266.0 L139.5,266.9 L139.3,267.8 L139.2,268.7 L139.2,269.6 L139.2,270.5 L139.3,271.4 L139.4,272.2 L139.5,273.1 L139.7,274.0 L139.9,274.9 L140.2,275.8 L140.5,276.7 L140.8,277.5 L141.1,278.4 L141.5,279.3 L141.8,280.2 L142.1,281.1 L142.5,282.0 L142.8,282.8 L143.1,283.7 L143.4,284.6 L143.7,285.5 L144.0,286.4 L144.2,287.3 L144.4,288.2 L144.6,289.0 L144.7,289.9 L144.8,290.8 L145.0,291.7 L145.0,292.6 L145.1,293.5 L145.2,294.3 L145.2,295.2 L145.3,296.1 L145.3,297.0 L145.5,297.0 L145.5,296.1 L145.6,295.2 L145.6,294.3 L145.7,293.5 L145.8,292.6 L145.8,291.7 L146.0,290.8 L146.1,289.9 L146.2,289.0 L146.4,288.2 L146.6,287.3 L146.8,286.4 L147.1,285.5 L147.4,284.6 L147.7,283.7 L148.0,282.8 L148.3,282.0 L148.7,281.1 L149.0,280.2 L149.3,279.3 L149.7,278.4 L150.0,277.5 L150.3,276.7 L150.6,275.8 L150.9,274.9 L151.1,274.0 L151.3,273.1 L151.4,272.2 L151.5,271.4 L151.6,270.5 L151.6,269.6 L151.6,268.7 L151.5,267.8 L151.3,266.9 L151.0,266.0 L150.7,265.2 L150.3,264.3 L149.9,263.4 L149.4,262.5 L149.0,261.6 L148.5,260.7 L148.1,259.9 L147.7,259.0 L147.3,258.1 L147.0,257.2 L146.7,256.3 L146.5,255.4 L146.2,254.5 L146.1,253.7 L145.9,252.8 L145.8,251.9 L145.7,251.0 L145.6,250.1 L145.6,249.2 L145.5,248.4 L145.5,247.5 L145.5,246.6 L145.5,245.7 L145.5,244.8 L145.5,243.9 L145.5,243.0 L145.5,242.2 L145.5,241.3 L145.5,240.4 L145.5,239.5 L145.5,238.6 L145.5,237.7 L145.5,236.9 L145.5,236.0 L145.5,235.1 L145.5,234.2 L145.5,233.3 L145.5,232.4 L145.5,231.6 L145.5,230.7 L145.5,229.8 L145.5,228.9 L145.5,228.0 L145.5,227.1 L145.5,226.2 L145.5,225.4 L145.5,224.5 L145.5,223.6 L145.5,222.7 L145.5,221.8 L145.5,220.9 L145.5,220.1 L145.5,219.2 L145.5,218.3 L145.5,217.4 Z" fill="#fad8d8" stroke="#3c3c3c" stroke-width="0.5" stroke-linejoin="round"/>
<path d="M145.4,257.4 L145.4,297.0" stroke="#333" stroke-width="0.4"/>
<rect x="144.0" y="265.4" width="2.8" height="12.0" rx="0.4" fill="#fff" stroke="#444" stroke-width="0.45"/>
<path d="M144.0,271.2 L146.8,271.2" stroke="#444" stroke-width="0.5"/>
<path d="M167.5,224.0 L167.5,224.8 L167.5,225.6 L167.5,226.4 L167.5,227.2 L167.5,228.1 L167.5,228.9 L167.5,229.7 L167.5,230.5 L167.5,231.3 L167.5,232.1 L167.5,232.9 L167.5,233.7 L167.5,234.5 L167.5,235.4 L167.5,236.2 L167.5,237.0 L167.5,237.8 L167.5,238.6 L167.5,239.4 L167.5,240.2 L167.5,241.0 L167.5,241.8 L167.5,242.7 L167.5,243.5 L167.5,244.3 L167.5,245.1 L167.5,245.9 L167.5,246.7 L167.5,247.5 L167.5,248.3 L167.5,249.1 L167.5,250.0 L167.5,250.8 L167.5,251.6 L167.5,252.4 L167.5,253.2 L167.5,254.0 L167.5,254.8 L167.5,255.6 L167.5,256.4 L167.5,257.3 L167.5,258.1 L167.5,258.9 L167.5,259.7 L167.5,260.5 L167.4,261.3 L167.3,262.1 L167.2,262.9 L167.1,263.7 L166.8,264.6 L166.6,265.4 L166.2,266.2 L165.8,267.0 L165.3,267.8 L164.8,268.6 L164.2,269.4 L163.6,270.2 L163.0,271.0 L162.5,271.9 L161.9,272.7 L161.5,273.5 L161.1,274.3 L160.8,275.1 L160.7,275.9 L160.6,276.7 L160.6,277.5 L160.6,278.3 L160.7,279.2 L160.9,280.0 L161.1,280.8 L161.4,281.6 L161.7,282.4 L162.1,283.2 L162.5,284.0 L163.0,284.8 L163.4,285.6 L163.9,286.5 L164.4,287.3 L164.8,288.1 L165.3,288.9 L165.7,289.7 L166.0,290.5 L166.3,291.3 L166.6,292.1 L166.8,292.9 L167.0,293.8 L167.2,294.6 L167.3,295.4 L167.4,296.2 L167.4,297.0 L167.8,297.0 L167.8,296.2 L167.9,295.4 L168.0,294.6 L168.2,293.8 L168.4,292.9 L168.6,292.1 L168.9,291.3 L169.2,290.5 L169.5,289.7 L169.9,288.9 L170.4,288.1 L170.8,287.3 L171.3,286.5 L171.8,285.6 L172.2,284.8 L172.7,284.0 L173.1,283.2 L173.5,282.4 L173.8,281.6 L174.1,280.8 L174.3,280.0 L174.5,279.2 L174.6,278.3 L174.6,277.5 L174.6,276.7 L174.5,275.9 L174.4,275.1 L174.1,274.3 L173.7,273.5 L173.3,272.7 L172.7,271.9 L172.2,271.0 L171.6,270.2 L171.0,269.4 L170.4,268.6 L169.9,267.8 L169.4,267.0 L169.0,266.2 L168.6,265.4 L168.4,264.6 L168.1,263.7 L168.0,262.9 L167.9,262.1 L167.8,261.3 L167.7,260.5 L167.7,259.7 L167.7,258.9 L167.7,258.1 L167.7,257.3 L167.7,256.4 L167.7,255.6 L167.7,254.8 L167.7,254.0 L167.7,253.2 L167.7,252.4 L167.7,251.6 L167.7,250.8 L167.7,250.0 L167.7,249.1 L167.7,248.3 L167.7,247.5 L167.7,246.7 L167.7,245.9 L167.7,245.1 L167.7,244.3 L167.7,243.5 L167.7,242.7 L167.7,241.8 L167.7,241.0 L167.7,240.2 L167.7,239.4 L167.7,238.6 L167.7,237.8 L167.7,237.0 L167.7,236.2 L167.7,235.4 L167.7,234.5 L167.7,233.7 L167.7,232.9 L167.7,232.1 L167.7,231.3 L167.7,230.5 L167.7,229.7 L167.7,228.9 L167.7,228.1 L167.7,227.2 L167.7,226.4 L167.7,225.6 L167.7,224.8 L167.7,224.0 Z" fill="#f6dcaa" stroke="#3c3c3c" stroke-width="0.5" stroke-linejoin="round"/>
<path d="M167.6,264.3 L167.6,297.0" stroke="#333" stroke-width="0.4"/>
<rect x="166.2" y="272.3" width="2.8" height="9.8" rx="0.4" fill="#fff" stroke="#444" stroke-width="0.45"/>
<path d="M166.2,277.3 L169.0,277.3" stroke="#444" stroke-width="0.5"/>
<path d="M28.8,213.8 L28.8,301.6 L186.0,301.6" fill="none" stroke="#333" stroke-width="0.55"/>
<path d="M26.8,297.0 L28.8,297.0" stroke="#333" stroke-width="0.5"/>
<text x="25.9" y="298.8" font-size="5.00" text-anchor="end" fill="#231f20" stroke="#231f20" stroke-width="0.10" >0.000</text>
<path d="M26.8,276.2 L28.8,276.2" stroke="#333" stroke-width="0.5"/>
<text x="25.9" y="278.0" font-size="5.00" text-anchor="end" fill="#231f20" stroke="#231f20" stroke-width="0.10" >0.003</text>
<path d="M26.8,255.3 L28.8,255.3" stroke="#333" stroke-width="0.5"/>
<text x="25.9" y="257.1" font-size="5.00" text-anchor="end" fill="#231f20" stroke="#231f20" stroke-width="0.10" >0.006</text>
<path d="M26.8,234.4 L28.8,234.4" stroke="#333" stroke-width="0.5"/>
<text x="25.9" y="236.2" font-size="5.00" text-anchor="end" fill="#231f20" stroke="#231f20" stroke-width="0.10" >0.009</text>
<path d="M47.4,301.6 L47.4,303.8" stroke="#333" stroke-width="0.5"/>
<text x="0.0" y="0.0" font-size="5.95" text-anchor="end" fill="#231f20" stroke="#231f20" stroke-width="0.12" transform="translate(48.7,307.5) rotate(-60)">European</text>
<path d="M75.3,301.6 L75.3,303.8" stroke="#333" stroke-width="0.5"/>
<text x="0.0" y="0.0" font-size="5.95" text-anchor="end" fill="#231f20" stroke="#231f20" stroke-width="0.12" transform="translate(74.2,308.8) rotate(-60)">Northeast</text>
<text x="0.0" y="0.0" font-size="5.95" text-anchor="end" fill="#231f20" stroke="#231f20" stroke-width="0.12" transform="translate(77.9,315.0) rotate(-60)">Asian</text>
<path d="M100.6,301.6 L100.6,303.8" stroke="#333" stroke-width="0.5"/>
<text x="0.0" y="0.0" font-size="5.95" text-anchor="end" fill="#231f20" stroke="#231f20" stroke-width="0.12" transform="translate(101.9,307.5) rotate(-60)">Mengshan</text>
<path d="M124.1,301.6 L124.1,303.8" stroke="#333" stroke-width="0.5"/>
<text x="0.0" y="0.0" font-size="5.95" text-anchor="end" fill="#231f20" stroke="#231f20" stroke-width="0.12" transform="translate(125.4,307.5) rotate(-60)">Bohai</text>
<path d="M145.4,301.6 L145.4,303.8" stroke="#333" stroke-width="0.5"/>
<text x="0.0" y="0.0" font-size="5.95" text-anchor="end" fill="#231f20" stroke="#231f20" stroke-width="0.12" transform="translate(146.7,307.5) rotate(-60)">East Asian</text>
<path d="M167.6,301.6 L167.6,303.8" stroke="#333" stroke-width="0.5"/>
<text x="0.0" y="0.0" font-size="5.95" text-anchor="end" fill="#231f20" stroke="#231f20" stroke-width="0.12" transform="translate(168.9,307.5) rotate(-60)">South Asian</text>
<text x="0.0" y="0.0" font-size="5.80" text-anchor="middle" fill="#231f20" stroke="#231f20" stroke-width="0.12" transform="translate(8.6,257.2) rotate(-90)">Nucleotide diversity</text>
<text x="5.5" y="184.9" font-size="9.90" text-anchor="start" fill="#231f20" stroke="#231f20" stroke-width="0.20" >(d)</text>
</g>
<g id="panel-e">
<rect x="210.80" y="184.00" width="18.26" height="15.33" fill="#3c5caa" stroke="#a4a4a4" stroke-width="0.35"/>
<rect x="229.06" y="184.00" width="18.26" height="15.33" fill="#9eaed4" stroke="#a4a4a4" stroke-width="0.35"/>
<rect x="247.32" y="184.00" width="18.26" height="15.33" fill="#f8dce3" stroke="#a4a4a4" stroke-width="0.35"/>
<rect x="265.58" y="184.00" width="18.26" height="15.33" fill="#f8dce3" stroke="#a4a4a4" stroke-width="0.35"/>
<rect x="283.84" y="184.00" width="18.26" height="15.33" fill="#de5274" stroke="#a4a4a4" stroke-width="0.35"/>
<rect x="302.10" y="184.00" width="18.26" height="15.33" fill="#e16382" stroke="#a4a4a4" stroke-width="0.35"/>
<rect x="320.36" y="184.00" width="18.26" height="15.33" fill="#e57590" stroke="#a4a4a4" stroke-width="0.35"/>
<rect x="338.62" y="184.00" width="18.26" height="15.33" fill="#e36c89" stroke="#a4a4a4" stroke-width="0.35"/>
<rect x="210.80" y="199.33" width="18.26" height="15.33" fill="#9eaed4" stroke="#a4a4a4" stroke-width="0.35"/>
<rect x="229.06" y="199.33" width="18.26" height="15.33" fill="#3c5caa" stroke="#a4a4a4" stroke-width="0.35"/>
<rect x="247.32" y="199.33" width="18.26" height="15.33" fill="#fceef1" stroke="#a4a4a4" stroke-width="0.35"/>
<rect x="265.58" y="199.33" width="18.26" height="15.33" fill="#fae5ea" stroke="#a4a4a4" stroke-width="0.35"/>
<rect x="283.84" y="199.33" width="18.26" height="15.33" fill="#e16382" stroke="#a4a4a4" stroke-width="0.35"/>
<rect x="302.10" y="199.33" width="18.26" height="15.33" fill="#e57590" stroke="#a4a4a4" stroke-width="0.35"/>
<rect x="320.36" y="199.33" width="18.26" height="15.33" fill="#e8869e" stroke="#a4a4a4" stroke-width="0.35"/>
<rect x="338.62" y="199.33" width="18.26" height="15.33" fill="#e67d97" stroke="#a4a4a4" stroke-width="0.35"/>
<rect x="210.80" y="214.66" width="18.26" height="15.33" fill="#f8dce3" stroke="#a4a4a4" stroke-width="0.35"/>
<rect x="229.06" y="214.66" width="18.26" height="15.33" fill="#fceef1" stroke="#a4a4a4" stroke-width="0.35"/>
<rect x="247.32" y="214.66" width="18.26" height="15.33" fill="#3c5caa" stroke="#a4a4a4" stroke-width="0.35"/>
<rect x="265.58" y="214.66" width="18.26" height="15.33" fill="#4664ae" stroke="#a4a4a4" stroke-width="0.35"/>
<rect x="283.84" y="214.66" width="18.26" height="15.33" fill="#94a5d0" stroke="#a4a4a4" stroke-width="0.35"/>
<rect x="302.10" y="214.66" width="18.26" height="15.33" fill="#768dc4" stroke="#a4a4a4" stroke-width="0.35"/>
<rect x="320.36" y="214.66" width="18.26" height="15.33" fill="#637dbb" stroke="#a4a4a4" stroke-width="0.35"/>
<rect x="338.62" y="214.66" width="18.26" height="15.33" fill="#8095c8" stroke="#a4a4a4" stroke-width="0.35"/>
<rect x="210.80" y="229.99" width="18.26" height="15.33" fill="#f8dce3" stroke="#a4a4a4" stroke-width="0.35"/>
<rect x="229.06" y="229.99" width="18.26" height="15.33" fill="#fae5ea" stroke="#a4a4a4" stroke-width="0.35"/>
<rect x="247.32" y="229.99" width="18.26" height="15.33" fill="#4664ae" stroke="#a4a4a4" stroke-width="0.35"/>
<rect x="265.58" y="229.99" width="18.26" height="15.33" fill="#3c5caa" stroke="#a4a4a4" stroke-width="0.35"/>
<rect x="283.84" y="229.99" width="18.26" height="15.33" fill="#94a5d0" stroke="#a4a4a4" stroke-width="0.35"/>
<rect x="302.10" y="229.99" width="18.26" height="15.33" fill="#6d85bf" stroke="#a4a4a4" stroke-width="0.35"/>
<rect x="320.36" y="229.99" width="18.26" height="15.33" fill="#637dbb" stroke="#a4a4a4" stroke-width="0.35"/>
<rect x="338.62" y="229.99" width="18.26" height="15.33" fill="#8095c8" stroke="#a4a4a4" stroke-width="0.35"/>
<rect x="210.80" y="245.32" width="18.26" height="15.33" fill="#de5274" stroke="#a4a4a4" stroke-width="0.35"/>
<rect x="229.06" y="245.32" width="18.26" height="15.33" fill="#e16382" stroke="#a4a4a4" stroke-width="0.35"/>
<rect x="247.32" y="245.32" width="18.26" height="15.33" fill="#94a5d0" stroke="#a4a4a4" stroke-width="0.35"/>
<rect x="265.58" y="245.32" width="18.26" height="15.33" fill="#94a5d0" stroke="#a4a4a4" stroke-width="0.35"/>
<rect x="283.84" y="245.32" width="18.26" height="15.33" fill="#3c5caa" stroke="#a4a4a4" stroke-width="0.35"/>
<rect x="302.10" y="245.32" width="18.26" height="15.33" fill="#94a5d0" stroke="#a4a4a4" stroke-width="0.35"/>
<rect x="320.36" y="245.32" width="18.26" height="15.33" fill="#9eaed4" stroke="#a4a4a4" stroke-width="0.35"/>
<rect x="338.62" y="245.32" width="18.26" height="15.33" fill="#c4cee6" stroke="#a4a4a4" stroke-width="0.35"/>
<rect x="210.80" y="260.65" width="18.26" height="15.33" fill="#e16382" stroke="#a4a4a4" stroke-width="0.35"/>
<rect x="229.06" y="260.65" width="18.26" height="15.33" fill="#e57590" stroke="#a4a4a4" stroke-width="0.35"/>
<rect x="247.32" y="260.65" width="18.26" height="15.33" fill="#768dc4" stroke="#a4a4a4" stroke-width="0.35"/>
<rect x="265.58" y="260.65" width="18.26" height="15.33" fill="#6d85bf" stroke="#a4a4a4" stroke-width="0.35"/>
<rect x="283.84" y="260.65" width="18.26" height="15.33" fill="#94a5d0" stroke="#a4a4a4" stroke-width="0.35"/>
<rect x="302.10" y="260.65" width="18.26" height="15.33" fill="#3c5caa" stroke="#a4a4a4" stroke-width="0.35"/>
<rect x="320.36" y="260.65" width="18.26" height="15.33" fill="#6d85bf" stroke="#a4a4a4" stroke-width="0.35"/>
<rect x="338.62" y="260.65" width="18.26" height="15.33" fill="#9eaed4" stroke="#a4a4a4" stroke-width="0.35"/>
<rect x="210.80" y="275.98" width="18.26" height="15.33" fill="#e57590" stroke="#a4a4a4" stroke-width="0.35"/>
<rect x="229.06" y="275.98" width="18.26" height="15.33" fill="#e8869e" stroke="#a4a4a4" stroke-width="0.35"/>
<rect x="247.32" y="275.98" width="18.26" height="15.33" fill="#637dbb" stroke="#a4a4a4" stroke-width="0.35"/>
<rect x="265.58" y="275.98" width="18.26" height="15.33" fill="#637dbb" stroke="#a4a4a4" stroke-width="0.35"/>
<rect x="283.84" y="275.98" width="18.26" height="15.33" fill="#9eaed4" stroke="#a4a4a4" stroke-width="0.35"/>
<rect x="302.10" y="275.98" width="18.26" height="15.33" fill="#6d85bf" stroke="#a4a4a4" stroke-width="0.35"/>
<rect x="320.36" y="275.98" width="18.26" height="15.33" fill="#3c5caa" stroke="#a4a4a4" stroke-width="0.35"/>
<rect x="338.62" y="275.98" width="18.26" height="15.33" fill="#5974b7" stroke="#a4a4a4" stroke-width="0.35"/>
<rect x="210.80" y="291.31" width="18.26" height="15.33" fill="#e36c89" stroke="#a4a4a4" stroke-width="0.35"/>
<rect x="229.06" y="291.31" width="18.26" height="15.33" fill="#e67d97" stroke="#a4a4a4" stroke-width="0.35"/>
<rect x="247.32" y="291.31" width="18.26" height="15.33" fill="#8095c8" stroke="#a4a4a4" stroke-width="0.35"/>
<rect x="265.58" y="291.31" width="18.26" height="15.33" fill="#8095c8" stroke="#a4a4a4" stroke-width="0.35"/>
<rect x="283.84" y="291.31" width="18.26" height="15.33" fill="#c4cee6" stroke="#a4a4a4" stroke-width="0.35"/>
<rect x="302.10" y="291.31" width="18.26" height="15.33" fill="#9eaed4" stroke="#a4a4a4" stroke-width="0.35"/>
<rect x="320.36" y="291.31" width="18.26" height="15.33" fill="#5974b7" stroke="#a4a4a4" stroke-width="0.35"/>
<rect x="338.62" y="291.31" width="18.26" height="15.33" fill="#3c5caa" stroke="#a4a4a4" stroke-width="0.35"/>
<text x="219.9" y="193.2" font-size="6.05" text-anchor="middle" fill="#1a1a1a" stroke="#1a1a1a" stroke-width="0.12" >0.00</text>
<text x="238.2" y="193.2" font-size="6.05" text-anchor="middle" fill="#1a1a1a" stroke="#1a1a1a" stroke-width="0.12" >0.10</text>
<text x="256.5" y="193.2" font-size="6.05" text-anchor="middle" fill="#1a1a1a" stroke="#1a1a1a" stroke-width="0.12" >0.24</text>
<text x="274.7" y="193.2" font-size="6.05" text-anchor="middle" fill="#1a1a1a" stroke="#1a1a1a" stroke-width="0.12" >0.24</text>
<text x="293.0" y="193.2" font-size="6.05" text-anchor="middle" fill="#1a1a1a" stroke="#1a1a1a" stroke-width="0.12" >0.40</text>
<text x="311.2" y="193.2" font-size="6.05" text-anchor="middle" fill="#1a1a1a" stroke="#1a1a1a" stroke-width="0.12" >0.38</text>
<text x="329.5" y="193.2" font-size="6.05" text-anchor="middle" fill="#1a1a1a" stroke="#1a1a1a" stroke-width="0.12" >0.36</text>
<text x="347.8" y="193.2" font-size="6.05" text-anchor="middle" fill="#1a1a1a" stroke="#1a1a1a" stroke-width="0.12" >0.37</text>
<text x="219.9" y="208.5" font-size="6.05" text-anchor="middle" fill="#1a1a1a" stroke="#1a1a1a" stroke-width="0.12" >0.10</text>
<text x="238.2" y="208.5" font-size="6.05" text-anchor="middle" fill="#1a1a1a" stroke="#1a1a1a" stroke-width="0.12" >0.00</text>
<text x="256.5" y="208.5" font-size="6.05" text-anchor="middle" fill="#1a1a1a" stroke="#1a1a1a" stroke-width="0.12" >0.22</text>
<text x="274.7" y="208.5" font-size="6.05" text-anchor="middle" fill="#1a1a1a" stroke="#1a1a1a" stroke-width="0.12" >0.23</text>
<text x="293.0" y="208.5" font-size="6.05" text-anchor="middle" fill="#1a1a1a" stroke="#1a1a1a" stroke-width="0.12" >0.38</text>
<text x="311.2" y="208.5" font-size="6.05" text-anchor="middle" fill="#1a1a1a" stroke="#1a1a1a" stroke-width="0.12" >0.36</text>
<text x="329.5" y="208.5" font-size="6.05" text-anchor="middle" fill="#1a1a1a" stroke="#1a1a1a" stroke-width="0.12" >0.34</text>
<text x="347.8" y="208.5" font-size="6.05" text-anchor="middle" fill="#1a1a1a" stroke="#1a1a1a" stroke-width="0.12" >0.35</text>
<text x="219.9" y="223.8" font-size="6.05" text-anchor="middle" fill="#1a1a1a" stroke="#1a1a1a" stroke-width="0.12" >0.24</text>
<text x="238.2" y="223.8" font-size="6.05" text-anchor="middle" fill="#1a1a1a" stroke="#1a1a1a" stroke-width="0.12" >0.22</text>
<text x="256.5" y="223.8" font-size="6.05" text-anchor="middle" fill="#1a1a1a" stroke="#1a1a1a" stroke-width="0.12" >0.00</text>
<text x="274.7" y="223.8" font-size="6.05" text-anchor="middle" fill="#1a1a1a" stroke="#1a1a1a" stroke-width="0.12" >0.01</text>
<text x="293.0" y="223.8" font-size="6.05" text-anchor="middle" fill="#1a1a1a" stroke="#1a1a1a" stroke-width="0.12" >0.09</text>
<text x="311.2" y="223.8" font-size="6.05" text-anchor="middle" fill="#1a1a1a" stroke="#1a1a1a" stroke-width="0.12" >0.06</text>
<text x="329.5" y="223.8" font-size="6.05" text-anchor="middle" fill="#1a1a1a" stroke="#1a1a1a" stroke-width="0.12" >0.04</text>
<text x="347.8" y="223.8" font-size="6.05" text-anchor="middle" fill="#1a1a1a" stroke="#1a1a1a" stroke-width="0.12" >0.07</text>
<text x="219.9" y="239.2" font-size="6.05" text-anchor="middle" fill="#1a1a1a" stroke="#1a1a1a" stroke-width="0.12" >0.24</text>
<text x="238.2" y="239.2" font-size="6.05" text-anchor="middle" fill="#1a1a1a" stroke="#1a1a1a" stroke-width="0.12" >0.23</text>
<text x="256.5" y="239.2" font-size="6.05" text-anchor="middle" fill="#1a1a1a" stroke="#1a1a1a" stroke-width="0.12" >0.01</text>
<text x="274.7" y="239.2" font-size="6.05" text-anchor="middle" fill="#1a1a1a" stroke="#1a1a1a" stroke-width="0.12" >0.00</text>
<text x="293.0" y="239.2" font-size="6.05" text-anchor="middle" fill="#1a1a1a" stroke="#1a1a1a" stroke-width="0.12" >0.09</text>
<text x="311.2" y="239.2" font-size="6.05" text-anchor="middle" fill="#1a1a1a" stroke="#1a1a1a" stroke-width="0.12" >0.05</text>
<text x="329.5" y="239.2" font-size="6.05" text-anchor="middle" fill="#1a1a1a" stroke="#1a1a1a" stroke-width="0.12" >0.04</text>
<text x="347.8" y="239.2" font-size="6.05" text-anchor="middle" fill="#1a1a1a" stroke="#1a1a1a" stroke-width="0.12" >0.07</text>
<text x="219.9" y="254.5" font-size="6.05" text-anchor="middle" fill="#1a1a1a" stroke="#1a1a1a" stroke-width="0.12" >0.40</text>
<text x="238.2" y="254.5" font-size="6.05" text-anchor="middle" fill="#1a1a1a" stroke="#1a1a1a" stroke-width="0.12" >0.38</text>
<text x="256.5" y="254.5" font-size="6.05" text-anchor="middle" fill="#1a1a1a" stroke="#1a1a1a" stroke-width="0.12" >0.09</text>
<text x="274.7" y="254.5" font-size="6.05" text-anchor="middle" fill="#1a1a1a" stroke="#1a1a1a" stroke-width="0.12" >0.09</text>
<text x="293.0" y="254.5" font-size="6.05" text-anchor="middle" fill="#1a1a1a" stroke="#1a1a1a" stroke-width="0.12" >0.00</text>
<text x="311.2" y="254.5" font-size="6.05" text-anchor="middle" fill="#1a1a1a" stroke="#1a1a1a" stroke-width="0.12" >0.09</text>
<text x="329.5" y="254.5" font-size="6.05" text-anchor="middle" fill="#1a1a1a" stroke="#1a1a1a" stroke-width="0.12" >0.10</text>
<text x="347.8" y="254.5" font-size="6.05" text-anchor="middle" fill="#1a1a1a" stroke="#1a1a1a" stroke-width="0.12" >0.14</text>
<text x="219.9" y="269.8" font-size="6.05" text-anchor="middle" fill="#1a1a1a" stroke="#1a1a1a" stroke-width="0.12" >0.38</text>
<text x="238.2" y="269.8" font-size="6.05" text-anchor="middle" fill="#1a1a1a" stroke="#1a1a1a" stroke-width="0.12" >0.36</text>
<text x="256.5" y="269.8" font-size="6.05" text-anchor="middle" fill="#1a1a1a" stroke="#1a1a1a" stroke-width="0.12" >0.06</text>
<text x="274.7" y="269.8" font-size="6.05" text-anchor="middle" fill="#1a1a1a" stroke="#1a1a1a" stroke-width="0.12" >0.05</text>
<text x="293.0" y="269.8" font-size="6.05" text-anchor="middle" fill="#1a1a1a" stroke="#1a1a1a" stroke-width="0.12" >0.09</text>
<text x="311.2" y="269.8" font-size="6.05" text-anchor="middle" fill="#1a1a1a" stroke="#1a1a1a" stroke-width="0.12" >0.00</text>
<text x="329.5" y="269.8" font-size="6.05" text-anchor="middle" fill="#1a1a1a" stroke="#1a1a1a" stroke-width="0.12" >0.05</text>
<text x="347.8" y="269.8" font-size="6.05" text-anchor="middle" fill="#1a1a1a" stroke="#1a1a1a" stroke-width="0.12" >0.10</text>
<text x="219.9" y="285.1" font-size="6.05" text-anchor="middle" fill="#1a1a1a" stroke="#1a1a1a" stroke-width="0.12" >0.36</text>
<text x="238.2" y="285.1" font-size="6.05" text-anchor="middle" fill="#1a1a1a" stroke="#1a1a1a" stroke-width="0.12" >0.34</text>
<text x="256.5" y="285.1" font-size="6.05" text-anchor="middle" fill="#1a1a1a" stroke="#1a1a1a" stroke-width="0.12" >0.04</text>
<text x="274.7" y="285.1" font-size="6.05" text-anchor="middle" fill="#1a1a1a" stroke="#1a1a1a" stroke-width="0.12" >0.04</text>
<text x="293.0" y="285.1" font-size="6.05" text-anchor="middle" fill="#1a1a1a" stroke="#1a1a1a" stroke-width="0.12" >0.10</text>
<text x="311.2" y="285.1" font-size="6.05" text-anchor="middle" fill="#1a1a1a" stroke="#1a1a1a" stroke-width="0.12" >0.05</text>
<text x="329.5" y="285.1" font-size="6.05" text-anchor="middle" fill="#1a1a1a" stroke="#1a1a1a" stroke-width="0.12" >0.00</text>
<text x="347.8" y="285.1" font-size="6.05" text-anchor="middle" fill="#1a1a1a" stroke="#1a1a1a" stroke-width="0.12" >0.03</text>
<text x="219.9" y="300.5" font-size="6.05" text-anchor="middle" fill="#1a1a1a" stroke="#1a1a1a" stroke-width="0.12" >0.37</text>
<text x="238.2" y="300.5" font-size="6.05" text-anchor="middle" fill="#1a1a1a" stroke="#1a1a1a" stroke-width="0.12" >0.35</text>
<text x="256.5" y="300.5" font-size="6.05" text-anchor="middle" fill="#1a1a1a" stroke="#1a1a1a" stroke-width="0.12" >0.07</text>
<text x="274.7" y="300.5" font-size="6.05" text-anchor="middle" fill="#1a1a1a" stroke="#1a1a1a" stroke-width="0.12" >0.07</text>
<text x="293.0" y="300.5" font-size="6.05" text-anchor="middle" fill="#1a1a1a" stroke="#1a1a1a" stroke-width="0.12" >0.14</text>
<text x="311.2" y="300.5" font-size="6.05" text-anchor="middle" fill="#1a1a1a" stroke="#1a1a1a" stroke-width="0.12" >0.10</text>
<text x="329.5" y="300.5" font-size="6.05" text-anchor="middle" fill="#1a1a1a" stroke="#1a1a1a" stroke-width="0.12" >0.03</text>
<text x="347.8" y="300.5" font-size="6.05" text-anchor="middle" fill="#1a1a1a" stroke="#1a1a1a" stroke-width="0.12" >0.00</text>
<text x="359.3" y="193.8" font-size="6.00" text-anchor="start" fill="#231f20" stroke="#231f20" stroke-width="0.12" >South Asian</text>
<text x="0.0" y="0.0" font-size="5.95" text-anchor="end" fill="#231f20" stroke="#231f20" stroke-width="0.12" transform="translate(225.9,310.8) rotate(-57)">South Asian</text>
<text x="359.3" y="209.1" font-size="6.00" text-anchor="start" fill="#231f20" stroke="#231f20" stroke-width="0.12" >East Asian</text>
<text x="0.0" y="0.0" font-size="5.95" text-anchor="end" fill="#231f20" stroke="#231f20" stroke-width="0.12" transform="translate(244.2,310.8) rotate(-57)">East Asian</text>
<text x="359.3" y="224.4" font-size="6.00" text-anchor="start" fill="#231f20" stroke="#231f20" stroke-width="0.12" >Bohai</text>
<text x="0.0" y="0.0" font-size="5.95" text-anchor="end" fill="#231f20" stroke="#231f20" stroke-width="0.12" transform="translate(262.5,310.8) rotate(-57)">Bohai</text>
<text x="359.3" y="239.8" font-size="6.00" text-anchor="start" fill="#231f20" stroke="#231f20" stroke-width="0.12" >Mengshan</text>
<text x="0.0" y="0.0" font-size="5.95" text-anchor="end" fill="#231f20" stroke="#231f20" stroke-width="0.12" transform="translate(280.7,310.8) rotate(-57)">Mengshan</text>
<text x="359.3" y="255.1" font-size="6.00" text-anchor="start" fill="#231f20" stroke="#231f20" stroke-width="0.12" >Angus</text>
<text x="0.0" y="0.0" font-size="5.95" text-anchor="end" fill="#231f20" stroke="#231f20" stroke-width="0.12" transform="translate(299.0,310.8) rotate(-57)">Angus</text>
<text x="359.3" y="270.4" font-size="6.00" text-anchor="start" fill="#231f20" stroke="#231f20" stroke-width="0.12" >Simmental</text>
<text x="0.0" y="0.0" font-size="5.95" text-anchor="end" fill="#231f20" stroke="#231f20" stroke-width="0.12" transform="translate(317.2,310.8) rotate(-57)">Simmental</text>
<text x="359.3" y="285.7" font-size="6.00" text-anchor="start" fill="#231f20" stroke="#231f20" stroke-width="0.12" >Yanbian</text>
<text x="0.0" y="0.0" font-size="5.95" text-anchor="end" fill="#231f20" stroke="#231f20" stroke-width="0.12" transform="translate(335.5,310.8) rotate(-57)">Yanbian</text>
<text x="359.3" y="301.1" font-size="6.00" text-anchor="start" fill="#231f20" stroke="#231f20" stroke-width="0.12" >Hanwoo</text>
<text x="0.0" y="0.0" font-size="5.95" text-anchor="end" fill="#231f20" stroke="#231f20" stroke-width="0.12" transform="translate(353.8,310.8) rotate(-57)">Hanwoo</text>
<path d="M219.9,184.0 L219.9,182.1 L238.2,182.1 L238.2,184.0 M256.5,184.0 L256.5,183.2 L274.7,183.2 L274.7,184.0 M329.5,184.0 L329.5,183.3 L347.8,183.3 L347.8,184.0 M311.2,184.0 L311.2,182.6 L338.6,182.6 L338.6,183.3 M293.0,184.0 L293.0,181.9 L324.9,181.9 L324.9,182.6 M265.6,183.2 L265.6,180.8 L308.9,180.8 L308.9,181.9 M229.1,182.1 L229.1,173.8 L287.3,173.8 L287.3,180.8 M210.8,191.7 L209.2,191.7 L209.2,207.0 L210.8,207.0 M210.8,222.3 L210.2,222.3 L210.2,237.7 L210.8,237.7 M210.8,283.6 L210.4,283.6 L210.4,299.0 L210.8,299.0 M210.8,268.3 L210.0,268.3 L210.0,291.3 L210.4,291.3 M210.8,253.0 L209.5,253.0 L209.5,279.8 L210.0,279.8 M210.2,230.0 L207.6,230.0 L207.6,266.4 L209.5,266.4 M209.2,199.3 L200.7,199.3 L200.7,248.2 L207.6,248.2" fill="none" stroke="#5e5e5e" stroke-width="0.7"/>
<defs><linearGradient id="fst" x1="0" y1="1" x2="0" y2="0"><stop offset="0" stop-color="#3c5caa"/><stop offset="0.5" stop-color="#ffffff"/><stop offset="1" stop-color="#de5274"/></linearGradient></defs>
<rect x="192.2" y="257.6" width="3.8" height="49" fill="url(#fst)"/>
<text x="198.5" y="307.9" font-size="4.40" text-anchor="start" fill="#231f20" stroke="#231f20" stroke-width="0.09" >0</text>
<text x="198.5" y="295.7" font-size="4.40" text-anchor="start" fill="#231f20" stroke="#231f20" stroke-width="0.09" >0.1</text>
<text x="198.5" y="283.4" font-size="4.40" text-anchor="start" fill="#231f20" stroke="#231f20" stroke-width="0.09" >0.2</text>
<text x="198.5" y="271.2" font-size="4.40" text-anchor="start" fill="#231f20" stroke="#231f20" stroke-width="0.09" >0.3</text>
<text x="191.6" y="252.4" font-size="6.6" fill="#231f20"><tspan font-style="italic">F</tspan><tspan font-size="3.5" dy="1.9" dx="-0.1">ST</tspan></text>
<text x="195.8" y="183.8" font-size="9.90" text-anchor="start" fill="#231f20" stroke="#231f20" stroke-width="0.20" >(e)</text>
</g>
<g id="panel-f">
<rect x="410.6" y="184.1" width="125.7" height="123.7" fill="#fff" stroke="#8a8a8a" stroke-width="0.5"/>
<circle cx="464.3" cy="302.4" r="2.25" fill="#15b7d8"/>
<circle cx="465.6" cy="302.4" r="2.25" fill="#15b7d8"/>
<circle cx="464.9" cy="302.4" r="2.25" fill="#8d6fbb"/>
<circle cx="471.3" cy="302.4" r="2.25" fill="#15b7d8"/>
<circle cx="474.5" cy="302.5" r="2.25" fill="#e5ad4e"/>
<circle cx="489.5" cy="302.2" r="2.25" fill="#e5ad4e"/>
<circle cx="481.1" cy="283.4" r="2.25" fill="#fbc3c6"/>
<circle cx="482.4" cy="282.2" r="2.25" fill="#fbc3c6"/>
<circle cx="481.9" cy="286.9" r="2.25" fill="#fbc3c6"/>
<circle cx="480.0" cy="289.1" r="2.25" fill="#fbc3c6"/>
<circle cx="479.9" cy="287.9" r="2.25" fill="#fbc3c6"/>
<circle cx="480.1" cy="282.5" r="2.25" fill="#fbc3c6"/>
<circle cx="481.5" cy="294.2" r="2.25" fill="#fbc3c6"/>
<circle cx="480.3" cy="284.6" r="2.25" fill="#fbc3c6"/>
<circle cx="482.3" cy="296.2" r="2.25" fill="#fbc3c6"/>
<circle cx="482.1" cy="287.3" r="2.25" fill="#fbc3c6"/>
<circle cx="483.7" cy="281.7" r="2.25" fill="#fbc3c6"/>
<circle cx="483.2" cy="285.6" r="2.25" fill="#fbc3c6"/>
<circle cx="480.4" cy="282.9" r="2.25" fill="#fbc3c6"/>
<circle cx="481.0" cy="294.1" r="2.25" fill="#fbc3c6"/>
<circle cx="480.5" cy="290.3" r="2.25" fill="#fbc3c6"/>
<circle cx="482.4" cy="287.0" r="2.25" fill="#fbc3c6"/>
<circle cx="482.0" cy="282.0" r="2.25" fill="#fbc3c6"/>
<circle cx="480.0" cy="284.3" r="2.25" fill="#fbc3c6"/>
<circle cx="482.5" cy="287.8" r="2.25" fill="#fbc3c6"/>
<circle cx="481.1" cy="290.4" r="2.25" fill="#fbc3c6"/>
<circle cx="481.6" cy="285.8" r="2.25" fill="#fbc3c6"/>
<circle cx="483.0" cy="292.2" r="2.25" fill="#fbc3c6"/>
<circle cx="481.5" cy="279.5" r="2.25" fill="#fbc3c6"/>
<circle cx="498.6" cy="283.6" r="2.25" fill="#15b7d8"/>
<circle cx="496.5" cy="282.5" r="2.25" fill="#15b7d8"/>
<circle cx="494.6" cy="292.6" r="2.25" fill="#15b7d8"/>
<circle cx="480.9" cy="293.2" r="2.25" fill="#6c8fcb"/>
<circle cx="480.3" cy="299.2" r="2.25" fill="#8d6fbb"/>
<circle cx="487.7" cy="271.1" r="2.25" fill="#8d6fbb"/>
<circle cx="491.1" cy="274.7" r="2.25" fill="#8d6fbb"/>
<circle cx="492.2" cy="267.7" r="2.25" fill="#8d6fbb"/>
<circle cx="489.8" cy="273.3" r="2.25" fill="#8d6fbb"/>
<circle cx="486.6" cy="270.1" r="2.25" fill="#8d6fbb"/>
<circle cx="485.7" cy="272.2" r="2.25" fill="#8d6fbb"/>
<circle cx="493.1" cy="271.1" r="2.25" fill="#8d6fbb"/>
<circle cx="493.8" cy="268.0" r="2.25" fill="#8d6fbb"/>
<circle cx="492.4" cy="271.3" r="2.25" fill="#8d6fbb"/>
<circle cx="491.0" cy="269.7" r="2.25" fill="#8d6fbb"/>
<circle cx="490.2" cy="272.2" r="2.25" fill="#8d6fbb"/>
<circle cx="486.0" cy="272.6" r="2.25" fill="#8d6fbb"/>
<circle cx="493.2" cy="267.6" r="2.25" fill="#8d6fbb"/>
<circle cx="489.3" cy="272.2" r="2.25" fill="#8d6fbb"/>
<circle cx="485.2" cy="269.7" r="2.25" fill="#8d6fbb"/>
<circle cx="485.9" cy="267.2" r="2.25" fill="#8d6fbb"/>
<circle cx="489.7" cy="274.7" r="2.25" fill="#8d6fbb"/>
<circle cx="485.8" cy="269.6" r="2.25" fill="#8d6fbb"/>
<circle cx="491.3" cy="274.8" r="2.25" fill="#8d6fbb"/>
<circle cx="494.1" cy="274.6" r="2.25" fill="#8d6fbb"/>
<circle cx="487.8" cy="269.2" r="2.25" fill="#8d6fbb"/>
<circle cx="489.3" cy="274.8" r="2.25" fill="#8d6fbb"/>
<circle cx="486.4" cy="267.0" r="2.25" fill="#8d6fbb"/>
<circle cx="487.4" cy="270.0" r="2.25" fill="#8d6fbb"/>
<circle cx="490.7" cy="267.4" r="2.25" fill="#8d6fbb"/>
<circle cx="488.9" cy="271.0" r="2.25" fill="#8d6fbb"/>
<circle cx="495.2" cy="272.5" r="2.25" fill="#8d6fbb"/>
<circle cx="490.5" cy="271.6" r="2.25" fill="#8d6fbb"/>
<circle cx="491.3" cy="264.8" r="2.25" fill="#8d6fbb"/>
<circle cx="494.8" cy="273.6" r="2.25" fill="#8d6fbb"/>
<circle cx="494.6" cy="273.8" r="2.25" fill="#8d6fbb"/>
<circle cx="488.9" cy="269.0" r="2.25" fill="#8d6fbb"/>
<circle cx="486.3" cy="271.8" r="2.25" fill="#8d6fbb"/>
<circle cx="486.6" cy="266.1" r="2.25" fill="#8d6fbb"/>
<circle cx="487.8" cy="264.8" r="2.25" fill="#8d6fbb"/>
<circle cx="485.8" cy="268.6" r="2.25" fill="#8d6fbb"/>
<circle cx="490.8" cy="266.0" r="2.25" fill="#8d6fbb"/>
<circle cx="487.4" cy="268.4" r="2.25" fill="#8d6fbb"/>
<circle cx="488.2" cy="265.7" r="2.25" fill="#8d6fbb"/>
<circle cx="489.8" cy="270.0" r="2.25" fill="#8d6fbb"/>
<circle cx="488.2" cy="267.4" r="2.25" fill="#8d6fbb"/>
<circle cx="493.1" cy="266.1" r="2.25" fill="#8d6fbb"/>
<circle cx="489.9" cy="266.0" r="2.25" fill="#8d6fbb"/>
<circle cx="489.9" cy="264.5" r="2.25" fill="#8d6fbb"/>
<circle cx="491.3" cy="275.9" r="2.25" fill="#8d6fbb"/>
<circle cx="494.3" cy="272.6" r="2.25" fill="#8d6fbb"/>
<circle cx="505.9" cy="262.8" r="2.25" fill="#8d6fbb"/>
<circle cx="510.7" cy="264.7" r="2.25" fill="#8d6fbb"/>
<circle cx="484.1" cy="263.8" r="2.25" fill="#8d6fbb"/>
<circle cx="521.9" cy="221.6" r="2.25" fill="#fbc3c6"/>
<circle cx="510.3" cy="233.2" r="2.25" fill="#fbc3c6"/>
<circle cx="531.4" cy="189.6" r="2.25" fill="#6c8fcb"/>
<circle cx="515.8" cy="222.6" r="2.25" fill="#6c8fcb"/>
<circle cx="504.4" cy="232.4" r="2.25" fill="#6c8fcb"/>
<circle cx="512.4" cy="232.7" r="2.25" fill="#6c8fcb"/>
<circle cx="513.7" cy="232.5" r="2.25" fill="#6c8fcb"/>
<circle cx="521.1" cy="232.7" r="2.25" fill="#6c8fcb"/>
<circle cx="509.2" cy="239.8" r="2.25" fill="#6c8fcb"/>
<circle cx="501.8" cy="245.9" r="2.25" fill="#6c8fcb"/>
<circle cx="499.7" cy="249.1" r="2.25" fill="#6c8fcb"/>
<circle cx="501.0" cy="256.5" r="2.25" fill="#6c8fcb"/>
<circle cx="496.3" cy="260.1" r="2.25" fill="#6c8fcb"/>
<circle cx="492.4" cy="261.8" r="2.25" fill="#6c8fcb"/>
<circle cx="489.2" cy="263.8" r="2.25" fill="#6c8fcb"/>
<circle cx="488.0" cy="266.0" r="2.25" fill="#6c8fcb"/>
<circle cx="492.0" cy="268.0" r="2.25" fill="#6c8fcb"/>
<circle cx="494.0" cy="272.0" r="2.25" fill="#6c8fcb"/>
<circle cx="490.0" cy="275.0" r="2.25" fill="#6c8fcb"/>
<circle cx="508.1" cy="221.3" r="2.25" fill="#e5ad4e"/>
<circle cx="488.3" cy="267.0" r="2.25" fill="#e5ad4e"/>
<circle cx="489.2" cy="270.8" r="2.25" fill="#e5ad4e"/>
<circle cx="505.5" cy="284.1" r="2.25" fill="#e5ad4e"/>
<circle cx="497.3" cy="279.1" r="2.25" fill="#e5ad4e"/>
<circle cx="475.5" cy="292.4" r="2.25" fill="#e5ad4e"/>
<circle cx="480.6" cy="287.7" r="2.25" fill="#e5ad4e"/>
<circle cx="488.4" cy="276.2" r="2.25" fill="#8fd116"/>
<circle cx="490.0" cy="276.2" r="2.25" fill="#8fd116"/>
<circle cx="487.6" cy="277.6" r="2.25" fill="#8fd116"/>
<circle cx="489.2" cy="277.6" r="2.25" fill="#8fd116"/>
<circle cx="490.8" cy="277.6" r="2.25" fill="#8fd116"/>
<circle cx="486.8" cy="279.0" r="2.25" fill="#8fd116"/>
<circle cx="488.4" cy="279.0" r="2.25" fill="#8fd116"/>
<circle cx="490.0" cy="279.0" r="2.25" fill="#8fd116"/>
<circle cx="491.6" cy="279.0" r="2.25" fill="#8fd116"/>
<circle cx="486.0" cy="280.4" r="2.25" fill="#8fd116"/>
<circle cx="487.6" cy="280.4" r="2.25" fill="#8fd116"/>
<circle cx="489.2" cy="280.4" r="2.25" fill="#8fd116"/>
<circle cx="490.8" cy="280.4" r="2.25" fill="#8fd116"/>
<circle cx="492.4" cy="280.4" r="2.25" fill="#8fd116"/>
<circle cx="486.8" cy="281.8" r="2.25" fill="#8fd116"/>
<circle cx="488.4" cy="281.8" r="2.25" fill="#8fd116"/>
<circle cx="490.0" cy="281.8" r="2.25" fill="#8fd116"/>
<circle cx="491.6" cy="281.8" r="2.25" fill="#8fd116"/>
<circle cx="493.2" cy="281.8" r="2.25" fill="#8fd116"/>
<circle cx="486.0" cy="283.2" r="2.25" fill="#8fd116"/>
<circle cx="487.6" cy="283.2" r="2.25" fill="#8fd116"/>
<circle cx="489.2" cy="283.2" r="2.25" fill="#8fd116"/>
<circle cx="490.8" cy="283.2" r="2.25" fill="#8fd116"/>
<circle cx="492.4" cy="283.2" r="2.25" fill="#8fd116"/>
<circle cx="494.0" cy="283.2" r="2.25" fill="#8fd116"/>
<circle cx="485.2" cy="284.6" r="2.25" fill="#8fd116"/>
<circle cx="486.8" cy="284.6" r="2.25" fill="#8fd116"/>
<circle cx="488.4" cy="284.6" r="2.25" fill="#8fd116"/>
<circle cx="490.0" cy="284.6" r="2.25" fill="#8fd116"/>
<circle cx="491.6" cy="284.6" r="2.25" fill="#8fd116"/>
<circle cx="493.2" cy="284.6" r="2.25" fill="#8fd116"/>
<circle cx="494.8" cy="284.6" r="2.25" fill="#8fd116"/>
<circle cx="486.0" cy="286.0" r="2.25" fill="#8fd116"/>
<circle cx="487.6" cy="286.0" r="2.25" fill="#8fd116"/>
<circle cx="489.2" cy="286.0" r="2.25" fill="#8fd116"/>
<circle cx="490.8" cy="286.0" r="2.25" fill="#8fd116"/>
<circle cx="492.4" cy="286.0" r="2.25" fill="#8fd116"/>
<circle cx="494.0" cy="286.0" r="2.25" fill="#8fd116"/>
<circle cx="495.6" cy="286.0" r="2.25" fill="#8fd116"/>
<circle cx="497.2" cy="286.0" r="2.25" fill="#8fd116"/>
<circle cx="485.2" cy="287.4" r="2.25" fill="#8fd116"/>
<circle cx="486.8" cy="287.4" r="2.25" fill="#8fd116"/>
<circle cx="488.4" cy="287.4" r="2.25" fill="#8fd116"/>
<circle cx="490.0" cy="287.4" r="2.25" fill="#8fd116"/>
<circle cx="491.6" cy="287.4" r="2.25" fill="#8fd116"/>
<circle cx="493.2" cy="287.4" r="2.25" fill="#8fd116"/>
<circle cx="494.8" cy="287.4" r="2.25" fill="#8fd116"/>
<circle cx="496.4" cy="287.4" r="2.25" fill="#8fd116"/>
<circle cx="498.0" cy="287.4" r="2.25" fill="#8fd116"/>
<circle cx="499.6" cy="287.4" r="2.25" fill="#8fd116"/>
<circle cx="484.4" cy="288.8" r="2.25" fill="#8fd116"/>
<circle cx="486.0" cy="288.8" r="2.25" fill="#8fd116"/>
<circle cx="487.6" cy="288.8" r="2.25" fill="#8fd116"/>
<circle cx="489.2" cy="288.8" r="2.25" fill="#8fd116"/>
<circle cx="490.8" cy="288.8" r="2.25" fill="#8fd116"/>
<circle cx="492.4" cy="288.8" r="2.25" fill="#8fd116"/>
<circle cx="485.2" cy="290.2" r="2.25" fill="#8fd116"/>
<circle cx="486.8" cy="290.2" r="2.25" fill="#8fd116"/>
<circle cx="488.4" cy="290.2" r="2.25" fill="#8fd116"/>
<circle cx="490.0" cy="290.2" r="2.25" fill="#8fd116"/>
<circle cx="491.6" cy="290.2" r="2.25" fill="#8fd116"/>
<circle cx="484.4" cy="291.6" r="2.25" fill="#8fd116"/>
<circle cx="486.0" cy="291.6" r="2.25" fill="#8fd116"/>
<circle cx="487.6" cy="291.6" r="2.25" fill="#8fd116"/>
<circle cx="489.2" cy="291.6" r="2.25" fill="#8fd116"/>
<circle cx="490.8" cy="291.6" r="2.25" fill="#8fd116"/>
<circle cx="483.6" cy="293.0" r="2.25" fill="#8fd116"/>
<circle cx="485.2" cy="293.0" r="2.25" fill="#8fd116"/>
<circle cx="486.8" cy="293.0" r="2.25" fill="#8fd116"/>
<circle cx="488.4" cy="293.0" r="2.25" fill="#8fd116"/>
<circle cx="490.0" cy="293.0" r="2.25" fill="#8fd116"/>
<circle cx="482.8" cy="294.4" r="2.25" fill="#8fd116"/>
<circle cx="484.4" cy="294.4" r="2.25" fill="#8fd116"/>
<circle cx="486.0" cy="294.4" r="2.25" fill="#8fd116"/>
<circle cx="487.6" cy="294.4" r="2.25" fill="#8fd116"/>
<circle cx="489.2" cy="294.4" r="2.25" fill="#8fd116"/>
<circle cx="490.8" cy="294.4" r="2.25" fill="#8fd116"/>
<circle cx="483.6" cy="295.8" r="2.25" fill="#8fd116"/>
<circle cx="485.2" cy="295.8" r="2.25" fill="#8fd116"/>
<circle cx="486.8" cy="295.8" r="2.25" fill="#8fd116"/>
<circle cx="488.4" cy="295.8" r="2.25" fill="#8fd116"/>
<circle cx="490.0" cy="295.8" r="2.25" fill="#8fd116"/>
<circle cx="491.6" cy="295.8" r="2.25" fill="#8fd116"/>
<circle cx="482.8" cy="297.2" r="2.25" fill="#8fd116"/>
<circle cx="484.4" cy="297.2" r="2.25" fill="#8fd116"/>
<circle cx="486.0" cy="297.2" r="2.25" fill="#8fd116"/>
<circle cx="487.6" cy="297.2" r="2.25" fill="#8fd116"/>
<circle cx="489.2" cy="297.2" r="2.25" fill="#8fd116"/>
<circle cx="490.8" cy="297.2" r="2.25" fill="#8fd116"/>
<circle cx="485.2" cy="298.6" r="2.25" fill="#8fd116"/>
<circle cx="486.8" cy="298.6" r="2.25" fill="#8fd116"/>
<circle cx="488.4" cy="298.6" r="2.25" fill="#8fd116"/>
<circle cx="485.0" cy="259.9" r="2.25" fill="#8fd116"/>
<path d="M416.5,307.8 L416.5,310.0" stroke="#555" stroke-width="0.5"/>
<text x="416.5" y="316.6" font-size="5.30" text-anchor="middle" fill="#231f20" stroke="#231f20" stroke-width="0.11" >0</text>
<path d="M439.3,307.8 L439.3,310.0" stroke="#555" stroke-width="0.5"/>
<text x="439.3" y="316.6" font-size="5.30" text-anchor="middle" fill="#231f20" stroke="#231f20" stroke-width="0.11" >50</text>
<path d="M462.0,307.8 L462.0,310.0" stroke="#555" stroke-width="0.5"/>
<text x="462.0" y="316.6" font-size="5.30" text-anchor="middle" fill="#231f20" stroke="#231f20" stroke-width="0.11" >100</text>
<path d="M484.8,307.8 L484.8,310.0" stroke="#555" stroke-width="0.5"/>
<text x="484.8" y="316.6" font-size="5.30" text-anchor="middle" fill="#231f20" stroke="#231f20" stroke-width="0.11" >150</text>
<path d="M507.5,307.8 L507.5,310.0" stroke="#555" stroke-width="0.5"/>
<text x="507.5" y="316.6" font-size="5.30" text-anchor="middle" fill="#231f20" stroke="#231f20" stroke-width="0.11" >200</text>
<path d="M530.3,307.8 L530.3,310.0" stroke="#555" stroke-width="0.5"/>
<text x="530.3" y="316.6" font-size="5.30" text-anchor="middle" fill="#231f20" stroke="#231f20" stroke-width="0.11" >250</text>
<path d="M408.4,302.8 L410.6,302.8" stroke="#555" stroke-width="0.5"/>
<text x="407.8" y="304.7" font-size="5.20" text-anchor="end" fill="#231f20" stroke="#231f20" stroke-width="0.10" >0</text>
<path d="M408.4,272.5 L410.6,272.5" stroke="#555" stroke-width="0.5"/>
<text x="407.8" y="274.4" font-size="5.20" text-anchor="end" fill="#231f20" stroke="#231f20" stroke-width="0.10" >200</text>
<path d="M408.4,242.3 L410.6,242.3" stroke="#555" stroke-width="0.5"/>
<text x="407.8" y="244.2" font-size="5.20" text-anchor="end" fill="#231f20" stroke="#231f20" stroke-width="0.10" >400</text>
<path d="M408.4,212.0 L410.6,212.0" stroke="#555" stroke-width="0.5"/>
<text x="407.8" y="213.9" font-size="5.20" text-anchor="end" fill="#231f20" stroke="#231f20" stroke-width="0.10" >600</text>
<text x="482.0" y="324.2" font-size="5.90" text-anchor="middle" fill="#231f20" stroke="#231f20" stroke-width="0.12" >Total length in ROH (Kb)</text>
<text x="0.0" y="0.0" font-size="5.90" text-anchor="middle" fill="#231f20" stroke="#231f20" stroke-width="0.12" transform="translate(398.4,246) rotate(-90)">Number of ROH</text>
<rect x="410.6" y="184.1" width="54.2" height="55.3" fill="#fff" stroke="#333" stroke-width="0.5"/>
<circle cx="417.5" cy="190.3" r="2.4" fill="#e5ad4e"/>
<text x="421.8" y="192.4" font-size="6.00" text-anchor="start" fill="#231f20" stroke="#231f20" stroke-width="0.12" >South Asian</text>
<circle cx="417.5" cy="199.2" r="2.4" fill="#15b7d8"/>
<text x="421.8" y="201.3" font-size="6.00" text-anchor="start" fill="#231f20" stroke="#231f20" stroke-width="0.12" >Bobai</text>
<circle cx="417.5" cy="208.2" r="2.4" fill="#fbc3c6"/>
<text x="421.8" y="210.3" font-size="6.00" text-anchor="start" fill="#231f20" stroke="#231f20" stroke-width="0.12" >East Asian</text>
<circle cx="417.5" cy="217.1" r="2.4" fill="#8fd116"/>
<text x="421.8" y="219.2" font-size="6.00" text-anchor="start" fill="#231f20" stroke="#231f20" stroke-width="0.12" >Mengshan</text>
<circle cx="417.5" cy="226.1" r="2.4" fill="#6c8fcb"/>
<text x="421.8" y="228.2" font-size="6.00" text-anchor="start" fill="#231f20" stroke="#231f20" stroke-width="0.12" >European</text>
<circle cx="417.5" cy="235.0" r="2.4" fill="#8d6fbb"/>
<text x="421.8" y="237.1" font-size="6.00" text-anchor="start" fill="#231f20" stroke="#231f20" stroke-width="0.12" >Notheast Asian</text>
<text x="394.2" y="184.8" font-size="9.90" text-anchor="start" fill="#231f20" stroke="#231f20" stroke-width="0.20" >(f)</text>
</g>
</svg></body></html>
